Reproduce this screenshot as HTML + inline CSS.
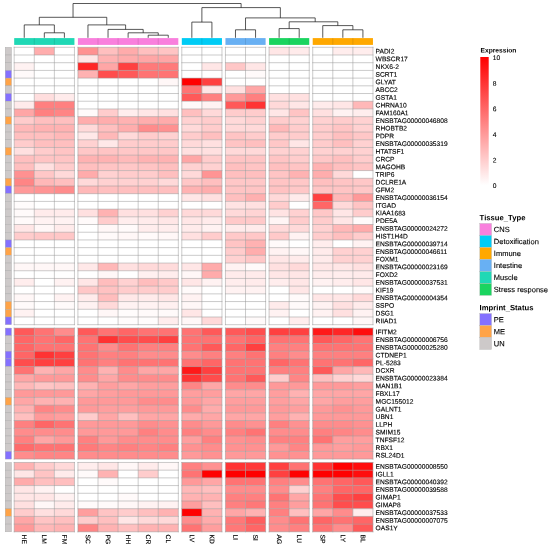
<!DOCTYPE html><html><head><meta charset="utf-8"><title>Heatmap</title><style>html,body{margin:0;padding:0;background:#fff}svg{display:block}</style></head><body><svg width="550" height="547" viewBox="0 0 550 547" font-family="Liberation Sans, Arial, sans-serif" text-rendering="geometricPrecision">
<rect width="550" height="547" fill="#fff"/>
<path d="M44.32 37.80V32.80H64.40V37.80M24.24 37.80V24.90H54.36V32.80M148.20 37.80V35.20H168.28V37.80M128.12 37.80V32.80H158.24V35.20M108.04 37.80V29.40H143.18V32.80M87.96 37.80V24.90H125.61V29.40M39.30 24.90V17.30H106.78V24.90M191.84 37.80V22.10H211.92V37.80M235.48 37.80V29.80H255.56V37.80M279.12 37.80V28.60H299.20V37.80M342.84 37.80V29.80H362.92V37.80M322.76 37.80V25.60H352.88V29.80M289.16 28.60V21.80H337.82V25.60M245.52 29.80V17.90H315.20V21.80M201.88 22.10V7.60H280.36V17.90M73.04 17.30V3.50H241.12V7.60" fill="none" stroke="#111" stroke-width="0.7"/>
<rect x="14.20" y="38.1" width="60.24" height="6.8" fill="#1FD8B5"/>
<path d="M34.28 38.1V44.9" stroke="#000" stroke-opacity="0.18" stroke-width="0.6"/>
<path d="M54.36 38.1V44.9" stroke="#000" stroke-opacity="0.18" stroke-width="0.6"/>
<rect x="77.92" y="38.1" width="100.40" height="6.8" fill="#F97FDD"/>
<path d="M98.00 38.1V44.9" stroke="#000" stroke-opacity="0.18" stroke-width="0.6"/>
<path d="M118.08 38.1V44.9" stroke="#000" stroke-opacity="0.18" stroke-width="0.6"/>
<path d="M138.16 38.1V44.9" stroke="#000" stroke-opacity="0.18" stroke-width="0.6"/>
<path d="M158.24 38.1V44.9" stroke="#000" stroke-opacity="0.18" stroke-width="0.6"/>
<rect x="181.80" y="38.1" width="40.16" height="6.8" fill="#00CCF5"/>
<path d="M201.88 38.1V44.9" stroke="#000" stroke-opacity="0.18" stroke-width="0.6"/>
<rect x="225.44" y="38.1" width="40.16" height="6.8" fill="#68B0F3"/>
<path d="M245.52 38.1V44.9" stroke="#000" stroke-opacity="0.18" stroke-width="0.6"/>
<rect x="269.08" y="38.1" width="40.16" height="6.8" fill="#1AD45F"/>
<path d="M289.16 38.1V44.9" stroke="#000" stroke-opacity="0.18" stroke-width="0.6"/>
<rect x="312.72" y="38.1" width="60.24" height="6.8" fill="#FFA800"/>
<path d="M332.80 38.1V44.9" stroke="#000" stroke-opacity="0.18" stroke-width="0.6"/>
<path d="M352.88 38.1V44.9" stroke="#000" stroke-opacity="0.18" stroke-width="0.6"/>
<rect x="5.2" y="47.30" width="6.3" height="7.71" fill="#CDC9C9" stroke="#aaa" stroke-width="0.4"/>
<rect x="34.28" y="47.30" width="20.08" height="7.71" fill="#ffadad"/>
<rect x="77.92" y="47.30" width="20.08" height="7.71" fill="#ff9191"/>
<rect x="98.00" y="47.30" width="20.08" height="7.71" fill="#ffbfbf"/>
<rect x="118.08" y="47.30" width="20.08" height="7.71" fill="#ffabab"/>
<rect x="138.16" y="47.30" width="20.08" height="7.71" fill="#ffbfbf"/>
<rect x="158.24" y="47.30" width="20.08" height="7.71" fill="#ffc4c4"/>
<rect x="269.08" y="47.30" width="20.08" height="7.71" fill="#ffe6e6"/>
<rect x="289.16" y="47.30" width="20.08" height="7.71" fill="#ffebeb"/>
<rect x="332.80" y="47.30" width="20.08" height="7.71" fill="#ffeded"/>
<rect x="352.88" y="47.30" width="20.08" height="7.71" fill="#ffeded"/>
<text transform="translate(375.6 53.55) rotate(0.05)" font-size="6.67" fill="#000" stroke="#000" stroke-width="0.12">PADI2</text>
<rect x="5.2" y="55.00" width="6.3" height="7.71" fill="#CDC9C9" stroke="#aaa" stroke-width="0.4"/>
<rect x="77.92" y="55.00" width="20.08" height="7.71" fill="#ffe6e6"/>
<rect x="98.00" y="55.00" width="20.08" height="7.71" fill="#ffb2b2"/>
<rect x="118.08" y="55.00" width="20.08" height="7.71" fill="#ffabab"/>
<rect x="138.16" y="55.00" width="20.08" height="7.71" fill="#ffa6a6"/>
<rect x="158.24" y="55.00" width="20.08" height="7.71" fill="#ffa6a6"/>
<text transform="translate(375.6 61.26) rotate(0.05)" font-size="6.67" fill="#000" stroke="#000" stroke-width="0.12">WBSCR17</text>
<rect x="5.2" y="62.71" width="6.3" height="7.71" fill="#CDC9C9" stroke="#aaa" stroke-width="0.4"/>
<rect x="14.20" y="62.71" width="20.08" height="7.71" fill="#fff2f2"/>
<rect x="77.92" y="62.71" width="20.08" height="7.71" fill="#ff2626"/>
<rect x="98.00" y="62.71" width="20.08" height="7.71" fill="#ffa6a6"/>
<rect x="118.08" y="62.71" width="20.08" height="7.71" fill="#ff4040"/>
<rect x="138.16" y="62.71" width="20.08" height="7.71" fill="#ff7a7a"/>
<rect x="158.24" y="62.71" width="20.08" height="7.71" fill="#ff7a7a"/>
<rect x="201.88" y="62.71" width="20.08" height="7.71" fill="#ffe6e6"/>
<rect x="225.44" y="62.71" width="20.08" height="7.71" fill="#ffc7c7"/>
<rect x="245.52" y="62.71" width="20.08" height="7.71" fill="#ffe6e6"/>
<text transform="translate(375.6 68.96) rotate(0.05)" font-size="6.67" fill="#000" stroke="#000" stroke-width="0.12">NKX6-2</text>
<rect x="5.2" y="70.41" width="6.3" height="7.71" fill="#8470FF" stroke="#aaa" stroke-width="0.4"/>
<rect x="14.20" y="70.41" width="20.08" height="7.71" fill="#fffafa"/>
<rect x="77.92" y="70.41" width="20.08" height="7.71" fill="#ffb2b2"/>
<rect x="98.00" y="70.41" width="20.08" height="7.71" fill="#ff4d4d"/>
<rect x="118.08" y="70.41" width="20.08" height="7.71" fill="#ff5959"/>
<rect x="138.16" y="70.41" width="20.08" height="7.71" fill="#ff7373"/>
<rect x="158.24" y="70.41" width="20.08" height="7.71" fill="#ff7373"/>
<rect x="245.52" y="70.41" width="20.08" height="7.71" fill="#fffafa"/>
<text transform="translate(375.6 76.67) rotate(0.05)" font-size="6.67" fill="#000" stroke="#000" stroke-width="0.12">SCRT1</text>
<rect x="5.2" y="78.12" width="6.3" height="7.71" fill="#FFA347" stroke="#aaa" stroke-width="0.4"/>
<rect x="158.24" y="78.12" width="20.08" height="7.71" fill="#fff7f7"/>
<rect x="181.80" y="78.12" width="20.08" height="7.71" fill="#ff0000"/>
<rect x="201.88" y="78.12" width="20.08" height="7.71" fill="#ff4040"/>
<text transform="translate(375.6 84.37) rotate(0.05)" font-size="6.67" fill="#000" stroke="#000" stroke-width="0.12">GLYAT</text>
<rect x="5.2" y="85.82" width="6.3" height="7.71" fill="#CDC9C9" stroke="#aaa" stroke-width="0.4"/>
<rect x="181.80" y="85.82" width="20.08" height="7.71" fill="#ff7373"/>
<rect x="201.88" y="85.82" width="20.08" height="7.71" fill="#ffe6e6"/>
<rect x="225.44" y="85.82" width="20.08" height="7.71" fill="#ffe0e0"/>
<rect x="245.52" y="85.82" width="20.08" height="7.71" fill="#ffa6a6"/>
<text transform="translate(375.6 92.08) rotate(0.05)" font-size="6.67" fill="#000" stroke="#000" stroke-width="0.12">ABCC2</text>
<rect x="5.2" y="93.53" width="6.3" height="7.71" fill="#8470FF" stroke="#aaa" stroke-width="0.4"/>
<rect x="34.28" y="93.53" width="20.08" height="7.71" fill="#ffdede"/>
<rect x="54.36" y="93.53" width="20.08" height="7.71" fill="#ffebeb"/>
<rect x="181.80" y="93.53" width="20.08" height="7.71" fill="#ff5959"/>
<rect x="201.88" y="93.53" width="20.08" height="7.71" fill="#ff8080"/>
<rect x="225.44" y="93.53" width="20.08" height="7.71" fill="#ff9999"/>
<rect x="245.52" y="93.53" width="20.08" height="7.71" fill="#ff8080"/>
<rect x="269.08" y="93.53" width="20.08" height="7.71" fill="#ffe0e0"/>
<rect x="289.16" y="93.53" width="20.08" height="7.71" fill="#ffe0e0"/>
<text transform="translate(375.6 99.78) rotate(0.05)" font-size="6.67" fill="#000" stroke="#000" stroke-width="0.12">GSTA1</text>
<rect x="5.2" y="101.23" width="6.3" height="7.71" fill="#CDC9C9" stroke="#aaa" stroke-width="0.4"/>
<rect x="14.20" y="101.23" width="20.08" height="7.71" fill="#ffebeb"/>
<rect x="34.28" y="101.23" width="20.08" height="7.71" fill="#ff8080"/>
<rect x="54.36" y="101.23" width="20.08" height="7.71" fill="#ff8080"/>
<rect x="181.80" y="101.23" width="20.08" height="7.71" fill="#fffafa"/>
<rect x="201.88" y="101.23" width="20.08" height="7.71" fill="#fff2f2"/>
<rect x="225.44" y="101.23" width="20.08" height="7.71" fill="#ff5959"/>
<rect x="245.52" y="101.23" width="20.08" height="7.71" fill="#ff3333"/>
<rect x="269.08" y="101.23" width="20.08" height="7.71" fill="#ffd9d9"/>
<rect x="289.16" y="101.23" width="20.08" height="7.71" fill="#ffe6e6"/>
<rect x="312.72" y="101.23" width="20.08" height="7.71" fill="#ffebeb"/>
<rect x="332.80" y="101.23" width="20.08" height="7.71" fill="#ffe6e6"/>
<rect x="352.88" y="101.23" width="20.08" height="7.71" fill="#ffb8b8"/>
<text transform="translate(375.6 107.49) rotate(0.05)" font-size="6.67" fill="#000" stroke="#000" stroke-width="0.12">CHRNA10</text>
<rect x="5.2" y="108.94" width="6.3" height="7.71" fill="#CDC9C9" stroke="#aaa" stroke-width="0.4"/>
<rect x="14.20" y="108.94" width="20.08" height="7.71" fill="#ffa6a6"/>
<rect x="34.28" y="108.94" width="20.08" height="7.71" fill="#ff8080"/>
<rect x="54.36" y="108.94" width="20.08" height="7.71" fill="#ff8585"/>
<rect x="77.92" y="108.94" width="20.08" height="7.71" fill="#fffafa"/>
<rect x="98.00" y="108.94" width="20.08" height="7.71" fill="#ffcccc"/>
<rect x="118.08" y="108.94" width="20.08" height="7.71" fill="#ffeded"/>
<rect x="138.16" y="108.94" width="20.08" height="7.71" fill="#ffe6e6"/>
<rect x="158.24" y="108.94" width="20.08" height="7.71" fill="#ffe0e0"/>
<rect x="181.80" y="108.94" width="20.08" height="7.71" fill="#ffbfbf"/>
<rect x="201.88" y="108.94" width="20.08" height="7.71" fill="#ffd9d9"/>
<rect x="225.44" y="108.94" width="20.08" height="7.71" fill="#ffcccc"/>
<rect x="245.52" y="108.94" width="20.08" height="7.71" fill="#ffcccc"/>
<rect x="269.08" y="108.94" width="20.08" height="7.71" fill="#ffe6e6"/>
<rect x="289.16" y="108.94" width="20.08" height="7.71" fill="#ffc4c4"/>
<rect x="312.72" y="108.94" width="20.08" height="7.71" fill="#ffe0e0"/>
<rect x="332.80" y="108.94" width="20.08" height="7.71" fill="#fff2f2"/>
<rect x="352.88" y="108.94" width="20.08" height="7.71" fill="#ffeded"/>
<text transform="translate(375.6 115.19) rotate(0.05)" font-size="6.67" fill="#000" stroke="#000" stroke-width="0.12">FAM160A1</text>
<rect x="5.2" y="116.64" width="6.3" height="7.71" fill="#FFA347" stroke="#aaa" stroke-width="0.4"/>
<rect x="14.20" y="116.64" width="20.08" height="7.71" fill="#ffcccc"/>
<rect x="34.28" y="116.64" width="20.08" height="7.71" fill="#ffbfbf"/>
<rect x="54.36" y="116.64" width="20.08" height="7.71" fill="#ffbfbf"/>
<rect x="77.92" y="116.64" width="20.08" height="7.71" fill="#ffadad"/>
<rect x="98.00" y="116.64" width="20.08" height="7.71" fill="#ffadad"/>
<rect x="118.08" y="116.64" width="20.08" height="7.71" fill="#ffb2b2"/>
<rect x="138.16" y="116.64" width="20.08" height="7.71" fill="#ffadad"/>
<rect x="158.24" y="116.64" width="20.08" height="7.71" fill="#ffabab"/>
<rect x="181.80" y="116.64" width="20.08" height="7.71" fill="#ffd1d1"/>
<rect x="201.88" y="116.64" width="20.08" height="7.71" fill="#ffcccc"/>
<rect x="225.44" y="116.64" width="20.08" height="7.71" fill="#ffd9d9"/>
<rect x="245.52" y="116.64" width="20.08" height="7.71" fill="#ffd1d1"/>
<rect x="269.08" y="116.64" width="20.08" height="7.71" fill="#ffcccc"/>
<rect x="289.16" y="116.64" width="20.08" height="7.71" fill="#ffd1d1"/>
<rect x="312.72" y="116.64" width="20.08" height="7.71" fill="#ffd1d1"/>
<rect x="332.80" y="116.64" width="20.08" height="7.71" fill="#ffcccc"/>
<rect x="352.88" y="116.64" width="20.08" height="7.71" fill="#ffd1d1"/>
<text transform="translate(375.6 122.90) rotate(0.05)" font-size="6.67" fill="#000" stroke="#000" stroke-width="0.12">ENSBTAG00000046808</text>
<rect x="5.2" y="124.35" width="6.3" height="7.71" fill="#CDC9C9" stroke="#aaa" stroke-width="0.4"/>
<rect x="14.20" y="124.35" width="20.08" height="7.71" fill="#ffb8b8"/>
<rect x="34.28" y="124.35" width="20.08" height="7.71" fill="#ffb2b2"/>
<rect x="54.36" y="124.35" width="20.08" height="7.71" fill="#ffb2b2"/>
<rect x="77.92" y="124.35" width="20.08" height="7.71" fill="#ffd9d9"/>
<rect x="98.00" y="124.35" width="20.08" height="7.71" fill="#ffbfbf"/>
<rect x="118.08" y="124.35" width="20.08" height="7.71" fill="#ffadad"/>
<rect x="138.16" y="124.35" width="20.08" height="7.71" fill="#ff8c8c"/>
<rect x="158.24" y="124.35" width="20.08" height="7.71" fill="#ff9191"/>
<rect x="181.80" y="124.35" width="20.08" height="7.71" fill="#ffd9d9"/>
<rect x="201.88" y="124.35" width="20.08" height="7.71" fill="#ffcccc"/>
<rect x="225.44" y="124.35" width="20.08" height="7.71" fill="#ffd9d9"/>
<rect x="245.52" y="124.35" width="20.08" height="7.71" fill="#ffd9d9"/>
<rect x="269.08" y="124.35" width="20.08" height="7.71" fill="#ffb8b8"/>
<rect x="289.16" y="124.35" width="20.08" height="7.71" fill="#ffcccc"/>
<rect x="312.72" y="124.35" width="20.08" height="7.71" fill="#ffcccc"/>
<rect x="332.80" y="124.35" width="20.08" height="7.71" fill="#ffc4c4"/>
<rect x="352.88" y="124.35" width="20.08" height="7.71" fill="#ffd1d1"/>
<text transform="translate(375.6 130.60) rotate(0.05)" font-size="6.67" fill="#000" stroke="#000" stroke-width="0.12">RHOBTB2</text>
<rect x="5.2" y="132.05" width="6.3" height="7.71" fill="#CDC9C9" stroke="#aaa" stroke-width="0.4"/>
<rect x="14.20" y="132.05" width="20.08" height="7.71" fill="#ffbfbf"/>
<rect x="34.28" y="132.05" width="20.08" height="7.71" fill="#ffbfbf"/>
<rect x="54.36" y="132.05" width="20.08" height="7.71" fill="#ffb8b8"/>
<rect x="77.92" y="132.05" width="20.08" height="7.71" fill="#ffe8e8"/>
<rect x="98.00" y="132.05" width="20.08" height="7.71" fill="#ffb8b8"/>
<rect x="118.08" y="132.05" width="20.08" height="7.71" fill="#ffd9d9"/>
<rect x="138.16" y="132.05" width="20.08" height="7.71" fill="#ffcccc"/>
<rect x="158.24" y="132.05" width="20.08" height="7.71" fill="#ffd1d1"/>
<rect x="181.80" y="132.05" width="20.08" height="7.71" fill="#ffcccc"/>
<rect x="201.88" y="132.05" width="20.08" height="7.71" fill="#ffbfbf"/>
<rect x="225.44" y="132.05" width="20.08" height="7.71" fill="#ffc4c4"/>
<rect x="245.52" y="132.05" width="20.08" height="7.71" fill="#ffcccc"/>
<rect x="269.08" y="132.05" width="20.08" height="7.71" fill="#ffcccc"/>
<rect x="289.16" y="132.05" width="20.08" height="7.71" fill="#ffcccc"/>
<rect x="312.72" y="132.05" width="20.08" height="7.71" fill="#ffcccc"/>
<rect x="332.80" y="132.05" width="20.08" height="7.71" fill="#ffbfbf"/>
<rect x="352.88" y="132.05" width="20.08" height="7.71" fill="#ffc7c7"/>
<text transform="translate(375.6 138.31) rotate(0.05)" font-size="6.67" fill="#000" stroke="#000" stroke-width="0.12">PDPR</text>
<rect x="5.2" y="139.76" width="6.3" height="7.71" fill="#CDC9C9" stroke="#aaa" stroke-width="0.4"/>
<rect x="14.20" y="139.76" width="20.08" height="7.71" fill="#ffcccc"/>
<rect x="34.28" y="139.76" width="20.08" height="7.71" fill="#ffbfbf"/>
<rect x="54.36" y="139.76" width="20.08" height="7.71" fill="#ffbfbf"/>
<rect x="77.92" y="139.76" width="20.08" height="7.71" fill="#ffd1d1"/>
<rect x="98.00" y="139.76" width="20.08" height="7.71" fill="#ffe8e8"/>
<rect x="118.08" y="139.76" width="20.08" height="7.71" fill="#ffcccc"/>
<rect x="138.16" y="139.76" width="20.08" height="7.71" fill="#ffcccc"/>
<rect x="158.24" y="139.76" width="20.08" height="7.71" fill="#ffcccc"/>
<rect x="181.80" y="139.76" width="20.08" height="7.71" fill="#ffd9d9"/>
<rect x="201.88" y="139.76" width="20.08" height="7.71" fill="#ffe0e0"/>
<rect x="225.44" y="139.76" width="20.08" height="7.71" fill="#ffc4c4"/>
<rect x="245.52" y="139.76" width="20.08" height="7.71" fill="#ffbfbf"/>
<rect x="269.08" y="139.76" width="20.08" height="7.71" fill="#ffc7c7"/>
<rect x="289.16" y="139.76" width="20.08" height="7.71" fill="#ffe6e6"/>
<rect x="312.72" y="139.76" width="20.08" height="7.71" fill="#ffcccc"/>
<rect x="332.80" y="139.76" width="20.08" height="7.71" fill="#ffbfbf"/>
<rect x="352.88" y="139.76" width="20.08" height="7.71" fill="#ffd1d1"/>
<text transform="translate(375.6 146.01) rotate(0.05)" font-size="6.67" fill="#000" stroke="#000" stroke-width="0.12">ENSBTAG00000035319</text>
<rect x="5.2" y="147.47" width="6.3" height="7.71" fill="#FFA347" stroke="#aaa" stroke-width="0.4"/>
<rect x="14.20" y="147.47" width="20.08" height="7.71" fill="#ffe0e0"/>
<rect x="34.28" y="147.47" width="20.08" height="7.71" fill="#ffcccc"/>
<rect x="54.36" y="147.47" width="20.08" height="7.71" fill="#ffc4c4"/>
<rect x="77.92" y="147.47" width="20.08" height="7.71" fill="#ffc7c7"/>
<rect x="98.00" y="147.47" width="20.08" height="7.71" fill="#ffc4c4"/>
<rect x="118.08" y="147.47" width="20.08" height="7.71" fill="#ffc7c7"/>
<rect x="138.16" y="147.47" width="20.08" height="7.71" fill="#ffc7c7"/>
<rect x="158.24" y="147.47" width="20.08" height="7.71" fill="#ffc7c7"/>
<rect x="181.80" y="147.47" width="20.08" height="7.71" fill="#ffe0e0"/>
<rect x="201.88" y="147.47" width="20.08" height="7.71" fill="#ffe0e0"/>
<rect x="225.44" y="147.47" width="20.08" height="7.71" fill="#ffd9d9"/>
<rect x="245.52" y="147.47" width="20.08" height="7.71" fill="#ffd9d9"/>
<rect x="269.08" y="147.47" width="20.08" height="7.71" fill="#ffd1d1"/>
<rect x="289.16" y="147.47" width="20.08" height="7.71" fill="#ffd1d1"/>
<rect x="312.72" y="147.47" width="20.08" height="7.71" fill="#ffd1d1"/>
<rect x="332.80" y="147.47" width="20.08" height="7.71" fill="#ffd1d1"/>
<rect x="352.88" y="147.47" width="20.08" height="7.71" fill="#ffd1d1"/>
<text transform="translate(375.6 153.72) rotate(0.05)" font-size="6.67" fill="#000" stroke="#000" stroke-width="0.12">HTATSF1</text>
<rect x="5.2" y="155.17" width="6.3" height="7.71" fill="#CDC9C9" stroke="#aaa" stroke-width="0.4"/>
<rect x="14.20" y="155.17" width="20.08" height="7.71" fill="#ffbfbf"/>
<rect x="34.28" y="155.17" width="20.08" height="7.71" fill="#ffc4c4"/>
<rect x="54.36" y="155.17" width="20.08" height="7.71" fill="#ffc4c4"/>
<rect x="77.92" y="155.17" width="20.08" height="7.71" fill="#ffb2b2"/>
<rect x="98.00" y="155.17" width="20.08" height="7.71" fill="#ffb2b2"/>
<rect x="118.08" y="155.17" width="20.08" height="7.71" fill="#ffbaba"/>
<rect x="138.16" y="155.17" width="20.08" height="7.71" fill="#ffb2b2"/>
<rect x="158.24" y="155.17" width="20.08" height="7.71" fill="#ffb2b2"/>
<rect x="181.80" y="155.17" width="20.08" height="7.71" fill="#ffa6a6"/>
<rect x="201.88" y="155.17" width="20.08" height="7.71" fill="#ffcccc"/>
<rect x="225.44" y="155.17" width="20.08" height="7.71" fill="#ffc4c4"/>
<rect x="245.52" y="155.17" width="20.08" height="7.71" fill="#ffc4c4"/>
<rect x="269.08" y="155.17" width="20.08" height="7.71" fill="#ffc4c4"/>
<rect x="289.16" y="155.17" width="20.08" height="7.71" fill="#ffcccc"/>
<rect x="312.72" y="155.17" width="20.08" height="7.71" fill="#ffc7c7"/>
<rect x="332.80" y="155.17" width="20.08" height="7.71" fill="#ffbfbf"/>
<rect x="352.88" y="155.17" width="20.08" height="7.71" fill="#ffcccc"/>
<text transform="translate(375.6 161.42) rotate(0.05)" font-size="6.67" fill="#000" stroke="#000" stroke-width="0.12">CRCP</text>
<rect x="5.2" y="162.88" width="6.3" height="7.71" fill="#CDC9C9" stroke="#aaa" stroke-width="0.4"/>
<rect x="14.20" y="162.88" width="20.08" height="7.71" fill="#ffbfbf"/>
<rect x="34.28" y="162.88" width="20.08" height="7.71" fill="#ffe0e0"/>
<rect x="54.36" y="162.88" width="20.08" height="7.71" fill="#ffcccc"/>
<rect x="77.92" y="162.88" width="20.08" height="7.71" fill="#ffbfbf"/>
<rect x="98.00" y="162.88" width="20.08" height="7.71" fill="#ffc4c4"/>
<rect x="118.08" y="162.88" width="20.08" height="7.71" fill="#ffc7c7"/>
<rect x="138.16" y="162.88" width="20.08" height="7.71" fill="#ffc4c4"/>
<rect x="158.24" y="162.88" width="20.08" height="7.71" fill="#ffbfbf"/>
<rect x="181.80" y="162.88" width="20.08" height="7.71" fill="#ffd1d1"/>
<rect x="201.88" y="162.88" width="20.08" height="7.71" fill="#ffd1d1"/>
<rect x="225.44" y="162.88" width="20.08" height="7.71" fill="#ffbfbf"/>
<rect x="245.52" y="162.88" width="20.08" height="7.71" fill="#ffc4c4"/>
<rect x="269.08" y="162.88" width="20.08" height="7.71" fill="#ffbfbf"/>
<rect x="289.16" y="162.88" width="20.08" height="7.71" fill="#ffc4c4"/>
<rect x="312.72" y="162.88" width="20.08" height="7.71" fill="#ffb2b2"/>
<rect x="332.80" y="162.88" width="20.08" height="7.71" fill="#ffbfbf"/>
<rect x="352.88" y="162.88" width="20.08" height="7.71" fill="#ffc4c4"/>
<text transform="translate(375.6 169.13) rotate(0.05)" font-size="6.67" fill="#000" stroke="#000" stroke-width="0.12">MAGOHB</text>
<rect x="5.2" y="170.58" width="6.3" height="7.71" fill="#CDC9C9" stroke="#aaa" stroke-width="0.4"/>
<rect x="14.20" y="170.58" width="20.08" height="7.71" fill="#ff9191"/>
<rect x="34.28" y="170.58" width="20.08" height="7.71" fill="#ffc7c7"/>
<rect x="54.36" y="170.58" width="20.08" height="7.71" fill="#ffd9d9"/>
<rect x="77.92" y="170.58" width="20.08" height="7.71" fill="#ffabab"/>
<rect x="98.00" y="170.58" width="20.08" height="7.71" fill="#ffd1d1"/>
<rect x="118.08" y="170.58" width="20.08" height="7.71" fill="#ffcccc"/>
<rect x="138.16" y="170.58" width="20.08" height="7.71" fill="#ffcccc"/>
<rect x="158.24" y="170.58" width="20.08" height="7.71" fill="#ffbfbf"/>
<rect x="181.80" y="170.58" width="20.08" height="7.71" fill="#ffd9d9"/>
<rect x="201.88" y="170.58" width="20.08" height="7.71" fill="#ff9494"/>
<rect x="225.44" y="170.58" width="20.08" height="7.71" fill="#ffbfbf"/>
<rect x="245.52" y="170.58" width="20.08" height="7.71" fill="#ffbfbf"/>
<rect x="269.08" y="170.58" width="20.08" height="7.71" fill="#ffc4c4"/>
<rect x="289.16" y="170.58" width="20.08" height="7.71" fill="#ffb2b2"/>
<rect x="312.72" y="170.58" width="20.08" height="7.71" fill="#ffadad"/>
<rect x="332.80" y="170.58" width="20.08" height="7.71" fill="#ffd9d9"/>
<text transform="translate(375.6 176.83) rotate(0.05)" font-size="6.67" fill="#000" stroke="#000" stroke-width="0.12">TRIP6</text>
<rect x="5.2" y="178.29" width="6.3" height="7.71" fill="#FFA347" stroke="#aaa" stroke-width="0.4"/>
<rect x="14.20" y="178.29" width="20.08" height="7.71" fill="#ff8585"/>
<rect x="34.28" y="178.29" width="20.08" height="7.71" fill="#ffb8b8"/>
<rect x="54.36" y="178.29" width="20.08" height="7.71" fill="#ffbfbf"/>
<rect x="77.92" y="178.29" width="20.08" height="7.71" fill="#ffd9d9"/>
<rect x="98.00" y="178.29" width="20.08" height="7.71" fill="#ffd1d1"/>
<rect x="118.08" y="178.29" width="20.08" height="7.71" fill="#ffd1d1"/>
<rect x="138.16" y="178.29" width="20.08" height="7.71" fill="#ffd1d1"/>
<rect x="158.24" y="178.29" width="20.08" height="7.71" fill="#ffd9d9"/>
<rect x="181.80" y="178.29" width="20.08" height="7.71" fill="#ffc7c7"/>
<rect x="201.88" y="178.29" width="20.08" height="7.71" fill="#ffbfbf"/>
<rect x="225.44" y="178.29" width="20.08" height="7.71" fill="#ffc7c7"/>
<rect x="245.52" y="178.29" width="20.08" height="7.71" fill="#ffc7c7"/>
<rect x="269.08" y="178.29" width="20.08" height="7.71" fill="#ffc4c4"/>
<rect x="289.16" y="178.29" width="20.08" height="7.71" fill="#ffc7c7"/>
<rect x="312.72" y="178.29" width="20.08" height="7.71" fill="#ffbfbf"/>
<rect x="332.80" y="178.29" width="20.08" height="7.71" fill="#ffc4c4"/>
<rect x="352.88" y="178.29" width="20.08" height="7.71" fill="#ffc7c7"/>
<text transform="translate(375.6 184.54) rotate(0.05)" font-size="6.67" fill="#000" stroke="#000" stroke-width="0.12">DCLRE1A</text>
<rect x="5.2" y="185.99" width="6.3" height="7.71" fill="#8470FF" stroke="#aaa" stroke-width="0.4"/>
<rect x="14.20" y="185.99" width="20.08" height="7.71" fill="#ff9999"/>
<rect x="34.28" y="185.99" width="20.08" height="7.71" fill="#ff9494"/>
<rect x="54.36" y="185.99" width="20.08" height="7.71" fill="#ff8c8c"/>
<rect x="77.92" y="185.99" width="20.08" height="7.71" fill="#ffb8b8"/>
<rect x="98.00" y="185.99" width="20.08" height="7.71" fill="#ffbfbf"/>
<rect x="118.08" y="185.99" width="20.08" height="7.71" fill="#ffbfbf"/>
<rect x="138.16" y="185.99" width="20.08" height="7.71" fill="#ffbfbf"/>
<rect x="158.24" y="185.99" width="20.08" height="7.71" fill="#ffbfbf"/>
<rect x="181.80" y="185.99" width="20.08" height="7.71" fill="#ffb2b2"/>
<rect x="201.88" y="185.99" width="20.08" height="7.71" fill="#ffadad"/>
<rect x="225.44" y="185.99" width="20.08" height="7.71" fill="#ffc4c4"/>
<rect x="245.52" y="185.99" width="20.08" height="7.71" fill="#ffc4c4"/>
<rect x="269.08" y="185.99" width="20.08" height="7.71" fill="#ffc2c2"/>
<rect x="289.16" y="185.99" width="20.08" height="7.71" fill="#ffc7c7"/>
<rect x="312.72" y="185.99" width="20.08" height="7.71" fill="#ffc4c4"/>
<rect x="332.80" y="185.99" width="20.08" height="7.71" fill="#ffc4c4"/>
<rect x="352.88" y="185.99" width="20.08" height="7.71" fill="#ffc7c7"/>
<text transform="translate(375.6 192.24) rotate(0.05)" font-size="6.67" fill="#000" stroke="#000" stroke-width="0.12">GFM2</text>
<rect x="5.2" y="193.70" width="6.3" height="7.71" fill="#CDC9C9" stroke="#aaa" stroke-width="0.4"/>
<rect x="181.80" y="193.70" width="20.08" height="7.71" fill="#ffe6e6"/>
<rect x="201.88" y="193.70" width="20.08" height="7.71" fill="#ffe0e0"/>
<rect x="225.44" y="193.70" width="20.08" height="7.71" fill="#ffbfbf"/>
<rect x="245.52" y="193.70" width="20.08" height="7.71" fill="#ffb0b0"/>
<rect x="269.08" y="193.70" width="20.08" height="7.71" fill="#ffd9d9"/>
<rect x="289.16" y="193.70" width="20.08" height="7.71" fill="#ffebeb"/>
<rect x="312.72" y="193.70" width="20.08" height="7.71" fill="#ff4040"/>
<rect x="332.80" y="193.70" width="20.08" height="7.71" fill="#ffb8b8"/>
<rect x="352.88" y="193.70" width="20.08" height="7.71" fill="#ff9999"/>
<text transform="translate(375.6 199.95) rotate(0.05)" font-size="6.67" fill="#000" stroke="#000" stroke-width="0.12">ENSBTAG00000036154</text>
<rect x="5.2" y="201.40" width="6.3" height="7.71" fill="#CDC9C9" stroke="#aaa" stroke-width="0.4"/>
<rect x="14.20" y="201.40" width="20.08" height="7.71" fill="#fffcfc"/>
<rect x="225.44" y="201.40" width="20.08" height="7.71" fill="#ffe3e3"/>
<rect x="245.52" y="201.40" width="20.08" height="7.71" fill="#ffe0e0"/>
<rect x="269.08" y="201.40" width="20.08" height="7.71" fill="#ffcccc"/>
<rect x="312.72" y="201.40" width="20.08" height="7.71" fill="#ff6666"/>
<rect x="332.80" y="201.40" width="20.08" height="7.71" fill="#ffd9d9"/>
<rect x="352.88" y="201.40" width="20.08" height="7.71" fill="#ffc4c4"/>
<text transform="translate(375.6 207.65) rotate(0.05)" font-size="6.67" fill="#000" stroke="#000" stroke-width="0.12">ITGAD</text>
<rect x="5.2" y="209.11" width="6.3" height="7.71" fill="#CDC9C9" stroke="#aaa" stroke-width="0.4"/>
<rect x="14.20" y="209.11" width="20.08" height="7.71" fill="#fffafa"/>
<rect x="34.28" y="209.11" width="20.08" height="7.71" fill="#ffebeb"/>
<rect x="54.36" y="209.11" width="20.08" height="7.71" fill="#ffebeb"/>
<rect x="77.92" y="209.11" width="20.08" height="7.71" fill="#ffe0e0"/>
<rect x="98.00" y="209.11" width="20.08" height="7.71" fill="#ffb2b2"/>
<rect x="118.08" y="209.11" width="20.08" height="7.71" fill="#ffe0e0"/>
<rect x="138.16" y="209.11" width="20.08" height="7.71" fill="#ffe0e0"/>
<rect x="158.24" y="209.11" width="20.08" height="7.71" fill="#ffd1d1"/>
<rect x="181.80" y="209.11" width="20.08" height="7.71" fill="#ffd9d9"/>
<rect x="201.88" y="209.11" width="20.08" height="7.71" fill="#ffd9d9"/>
<rect x="225.44" y="209.11" width="20.08" height="7.71" fill="#ffd9d9"/>
<rect x="245.52" y="209.11" width="20.08" height="7.71" fill="#ffd4d4"/>
<rect x="269.08" y="209.11" width="20.08" height="7.71" fill="#ffe3e3"/>
<rect x="289.16" y="209.11" width="20.08" height="7.71" fill="#ffd1d1"/>
<rect x="312.72" y="209.11" width="20.08" height="7.71" fill="#ffc7c7"/>
<rect x="332.80" y="209.11" width="20.08" height="7.71" fill="#ffe6e6"/>
<rect x="352.88" y="209.11" width="20.08" height="7.71" fill="#ffcccc"/>
<text transform="translate(375.6 215.36) rotate(0.05)" font-size="6.67" fill="#000" stroke="#000" stroke-width="0.12">KIAA1683</text>
<rect x="5.2" y="216.81" width="6.3" height="7.71" fill="#CDC9C9" stroke="#aaa" stroke-width="0.4"/>
<rect x="14.20" y="216.81" width="20.08" height="7.71" fill="#fffafa"/>
<rect x="34.28" y="216.81" width="20.08" height="7.71" fill="#fff2f2"/>
<rect x="54.36" y="216.81" width="20.08" height="7.71" fill="#fff2f2"/>
<rect x="77.92" y="216.81" width="20.08" height="7.71" fill="#fffafa"/>
<rect x="98.00" y="216.81" width="20.08" height="7.71" fill="#ffcccc"/>
<rect x="118.08" y="216.81" width="20.08" height="7.71" fill="#ffeded"/>
<rect x="138.16" y="216.81" width="20.08" height="7.71" fill="#ffebeb"/>
<rect x="158.24" y="216.81" width="20.08" height="7.71" fill="#ffe6e6"/>
<rect x="181.80" y="216.81" width="20.08" height="7.71" fill="#ffe6e6"/>
<rect x="201.88" y="216.81" width="20.08" height="7.71" fill="#ffebeb"/>
<rect x="225.44" y="216.81" width="20.08" height="7.71" fill="#ffc9c9"/>
<rect x="245.52" y="216.81" width="20.08" height="7.71" fill="#ffc9c9"/>
<rect x="269.08" y="216.81" width="20.08" height="7.71" fill="#fff5f5"/>
<rect x="289.16" y="216.81" width="20.08" height="7.71" fill="#ffcccc"/>
<rect x="312.72" y="216.81" width="20.08" height="7.71" fill="#ffcccc"/>
<rect x="332.80" y="216.81" width="20.08" height="7.71" fill="#ffe6e6"/>
<rect x="352.88" y="216.81" width="20.08" height="7.71" fill="#fffafa"/>
<text transform="translate(375.6 223.06) rotate(0.05)" font-size="6.67" fill="#000" stroke="#000" stroke-width="0.12">PDE5A</text>
<rect x="5.2" y="224.52" width="6.3" height="7.71" fill="#CDC9C9" stroke="#aaa" stroke-width="0.4"/>
<rect x="14.20" y="224.52" width="20.08" height="7.71" fill="#ffe6e6"/>
<rect x="34.28" y="224.52" width="20.08" height="7.71" fill="#fff7f7"/>
<rect x="54.36" y="224.52" width="20.08" height="7.71" fill="#ffebeb"/>
<rect x="98.00" y="224.52" width="20.08" height="7.71" fill="#fff7f7"/>
<rect x="118.08" y="224.52" width="20.08" height="7.71" fill="#fffafa"/>
<rect x="138.16" y="224.52" width="20.08" height="7.71" fill="#ffeded"/>
<rect x="158.24" y="224.52" width="20.08" height="7.71" fill="#ffeded"/>
<rect x="181.80" y="224.52" width="20.08" height="7.71" fill="#ffebeb"/>
<rect x="201.88" y="224.52" width="20.08" height="7.71" fill="#fff2f2"/>
<rect x="225.44" y="224.52" width="20.08" height="7.71" fill="#ffebeb"/>
<rect x="245.52" y="224.52" width="20.08" height="7.71" fill="#ffebeb"/>
<rect x="269.08" y="224.52" width="20.08" height="7.71" fill="#ffd9d9"/>
<rect x="289.16" y="224.52" width="20.08" height="7.71" fill="#ffd9d9"/>
<rect x="312.72" y="224.52" width="20.08" height="7.71" fill="#ffd1d1"/>
<rect x="332.80" y="224.52" width="20.08" height="7.71" fill="#ffb8b8"/>
<rect x="352.88" y="224.52" width="20.08" height="7.71" fill="#ffabab"/>
<text transform="translate(375.6 230.77) rotate(0.05)" font-size="6.67" fill="#000" stroke="#000" stroke-width="0.12">ENSBTAG00000024272</text>
<rect x="5.2" y="232.22" width="6.3" height="7.71" fill="#CDC9C9" stroke="#aaa" stroke-width="0.4"/>
<rect x="14.20" y="232.22" width="20.08" height="7.71" fill="#ffcccc"/>
<rect x="34.28" y="232.22" width="20.08" height="7.71" fill="#ffc7c7"/>
<rect x="54.36" y="232.22" width="20.08" height="7.71" fill="#ffc7c7"/>
<rect x="98.00" y="232.22" width="20.08" height="7.71" fill="#fffafa"/>
<rect x="118.08" y="232.22" width="20.08" height="7.71" fill="#fff7f7"/>
<rect x="138.16" y="232.22" width="20.08" height="7.71" fill="#fffafa"/>
<rect x="158.24" y="232.22" width="20.08" height="7.71" fill="#fff7f7"/>
<rect x="181.80" y="232.22" width="20.08" height="7.71" fill="#ffe0e0"/>
<rect x="201.88" y="232.22" width="20.08" height="7.71" fill="#ffcccc"/>
<rect x="225.44" y="232.22" width="20.08" height="7.71" fill="#ffc9c9"/>
<rect x="245.52" y="232.22" width="20.08" height="7.71" fill="#ffc7c7"/>
<rect x="269.08" y="232.22" width="20.08" height="7.71" fill="#ffc9c9"/>
<rect x="289.16" y="232.22" width="20.08" height="7.71" fill="#fff2f2"/>
<rect x="312.72" y="232.22" width="20.08" height="7.71" fill="#ffcccc"/>
<rect x="332.80" y="232.22" width="20.08" height="7.71" fill="#ffbfbf"/>
<rect x="352.88" y="232.22" width="20.08" height="7.71" fill="#ffcccc"/>
<text transform="translate(375.6 238.47) rotate(0.05)" font-size="6.67" fill="#000" stroke="#000" stroke-width="0.12">HIST1H4D</text>
<rect x="5.2" y="239.93" width="6.3" height="7.71" fill="#8470FF" stroke="#aaa" stroke-width="0.4"/>
<rect x="225.44" y="239.93" width="20.08" height="7.71" fill="#ffc4c4"/>
<rect x="245.52" y="239.93" width="20.08" height="7.71" fill="#ffb2b2"/>
<rect x="269.08" y="239.93" width="20.08" height="7.71" fill="#fffafa"/>
<rect x="312.72" y="239.93" width="20.08" height="7.71" fill="#ffeded"/>
<rect x="352.88" y="239.93" width="20.08" height="7.71" fill="#fff2f2"/>
<text transform="translate(375.6 246.18) rotate(0.05)" font-size="6.67" fill="#000" stroke="#000" stroke-width="0.12">ENSBTAG00000039714</text>
<rect x="5.2" y="247.63" width="6.3" height="7.71" fill="#FFA347" stroke="#aaa" stroke-width="0.4"/>
<rect x="225.44" y="247.63" width="20.08" height="7.71" fill="#ffcccc"/>
<rect x="245.52" y="247.63" width="20.08" height="7.71" fill="#ffadad"/>
<rect x="269.08" y="247.63" width="20.08" height="7.71" fill="#fff2f2"/>
<rect x="289.16" y="247.63" width="20.08" height="7.71" fill="#fff7f7"/>
<rect x="312.72" y="247.63" width="20.08" height="7.71" fill="#ffebeb"/>
<rect x="332.80" y="247.63" width="20.08" height="7.71" fill="#ffd1d1"/>
<rect x="352.88" y="247.63" width="20.08" height="7.71" fill="#ffd1d1"/>
<text transform="translate(375.6 253.88) rotate(0.05)" font-size="6.67" fill="#000" stroke="#000" stroke-width="0.12">ENSBTAG00000046611</text>
<rect x="5.2" y="255.34" width="6.3" height="7.71" fill="#CDC9C9" stroke="#aaa" stroke-width="0.4"/>
<rect x="225.44" y="255.34" width="20.08" height="7.71" fill="#ffd1d1"/>
<rect x="245.52" y="255.34" width="20.08" height="7.71" fill="#ffc7c7"/>
<rect x="269.08" y="255.34" width="20.08" height="7.71" fill="#ffe6e6"/>
<rect x="289.16" y="255.34" width="20.08" height="7.71" fill="#ffebeb"/>
<rect x="312.72" y="255.34" width="20.08" height="7.71" fill="#ffebeb"/>
<rect x="332.80" y="255.34" width="20.08" height="7.71" fill="#ffd1d1"/>
<rect x="352.88" y="255.34" width="20.08" height="7.71" fill="#ffd1d1"/>
<text transform="translate(375.6 261.59) rotate(0.05)" font-size="6.67" fill="#000" stroke="#000" stroke-width="0.12">FOXM1</text>
<rect x="5.2" y="263.04" width="6.3" height="7.71" fill="#CDC9C9" stroke="#aaa" stroke-width="0.4"/>
<rect x="14.20" y="263.04" width="20.08" height="7.71" fill="#fff7f7"/>
<rect x="34.28" y="263.04" width="20.08" height="7.71" fill="#fff7f7"/>
<rect x="54.36" y="263.04" width="20.08" height="7.71" fill="#fff7f7"/>
<rect x="77.92" y="263.04" width="20.08" height="7.71" fill="#ffe8e8"/>
<rect x="98.00" y="263.04" width="20.08" height="7.71" fill="#ffb8b8"/>
<rect x="118.08" y="263.04" width="20.08" height="7.71" fill="#ffe0e0"/>
<rect x="138.16" y="263.04" width="20.08" height="7.71" fill="#ffd9d9"/>
<rect x="158.24" y="263.04" width="20.08" height="7.71" fill="#ffdbdb"/>
<rect x="181.80" y="263.04" width="20.08" height="7.71" fill="#ffe6e6"/>
<rect x="201.88" y="263.04" width="20.08" height="7.71" fill="#ffabab"/>
<rect x="225.44" y="263.04" width="20.08" height="7.71" fill="#fff2f2"/>
<rect x="245.52" y="263.04" width="20.08" height="7.71" fill="#fffafa"/>
<rect x="269.08" y="263.04" width="20.08" height="7.71" fill="#ffe0e0"/>
<rect x="289.16" y="263.04" width="20.08" height="7.71" fill="#ffd9d9"/>
<rect x="312.72" y="263.04" width="20.08" height="7.71" fill="#ffe6e6"/>
<rect x="332.80" y="263.04" width="20.08" height="7.71" fill="#ffe6e6"/>
<rect x="352.88" y="263.04" width="20.08" height="7.71" fill="#ffe0e0"/>
<text transform="translate(375.6 269.29) rotate(0.05)" font-size="6.67" fill="#000" stroke="#000" stroke-width="0.12">ENSBTAG00000023169</text>
<rect x="5.2" y="270.75" width="6.3" height="7.71" fill="#CDC9C9" stroke="#aaa" stroke-width="0.4"/>
<rect x="98.00" y="270.75" width="20.08" height="7.71" fill="#fff7f7"/>
<rect x="138.16" y="270.75" width="20.08" height="7.71" fill="#fff0f0"/>
<rect x="158.24" y="270.75" width="20.08" height="7.71" fill="#ffeded"/>
<rect x="181.80" y="270.75" width="20.08" height="7.71" fill="#fff7f7"/>
<rect x="201.88" y="270.75" width="20.08" height="7.71" fill="#ffabab"/>
<rect x="225.44" y="270.75" width="20.08" height="7.71" fill="#ffebeb"/>
<rect x="245.52" y="270.75" width="20.08" height="7.71" fill="#ffebeb"/>
<rect x="269.08" y="270.75" width="20.08" height="7.71" fill="#ffe6e6"/>
<rect x="289.16" y="270.75" width="20.08" height="7.71" fill="#ffe6e6"/>
<rect x="312.72" y="270.75" width="20.08" height="7.71" fill="#ffeded"/>
<rect x="332.80" y="270.75" width="20.08" height="7.71" fill="#ffeded"/>
<rect x="352.88" y="270.75" width="20.08" height="7.71" fill="#ffebeb"/>
<text transform="translate(375.6 277.00) rotate(0.05)" font-size="6.67" fill="#000" stroke="#000" stroke-width="0.12">FOXD2</text>
<rect x="5.2" y="278.45" width="6.3" height="7.71" fill="#CDC9C9" stroke="#aaa" stroke-width="0.4"/>
<rect x="14.20" y="278.45" width="20.08" height="7.71" fill="#ffeded"/>
<rect x="54.36" y="278.45" width="20.08" height="7.71" fill="#fff2f2"/>
<rect x="77.92" y="278.45" width="20.08" height="7.71" fill="#ffe6e6"/>
<rect x="98.00" y="278.45" width="20.08" height="7.71" fill="#ffbdbd"/>
<rect x="118.08" y="278.45" width="20.08" height="7.71" fill="#ffd1d1"/>
<rect x="138.16" y="278.45" width="20.08" height="7.71" fill="#ffbdbd"/>
<rect x="158.24" y="278.45" width="20.08" height="7.71" fill="#ffc9c9"/>
<rect x="181.80" y="278.45" width="20.08" height="7.71" fill="#ffe6e6"/>
<rect x="201.88" y="278.45" width="20.08" height="7.71" fill="#fff2f2"/>
<rect x="225.44" y="278.45" width="20.08" height="7.71" fill="#ffeded"/>
<rect x="245.52" y="278.45" width="20.08" height="7.71" fill="#ffebeb"/>
<rect x="269.08" y="278.45" width="20.08" height="7.71" fill="#ffeded"/>
<rect x="289.16" y="278.45" width="20.08" height="7.71" fill="#ffe6e6"/>
<rect x="312.72" y="278.45" width="20.08" height="7.71" fill="#fff2f2"/>
<rect x="332.80" y="278.45" width="20.08" height="7.71" fill="#ffeded"/>
<rect x="352.88" y="278.45" width="20.08" height="7.71" fill="#ffe6e6"/>
<text transform="translate(375.6 284.70) rotate(0.05)" font-size="6.67" fill="#000" stroke="#000" stroke-width="0.12">ENSBTAG00000037531</text>
<rect x="5.2" y="286.16" width="6.3" height="7.71" fill="#CDC9C9" stroke="#aaa" stroke-width="0.4"/>
<rect x="77.92" y="286.16" width="20.08" height="7.71" fill="#ffc7c7"/>
<rect x="98.00" y="286.16" width="20.08" height="7.71" fill="#ffc2c2"/>
<rect x="118.08" y="286.16" width="20.08" height="7.71" fill="#ffcccc"/>
<rect x="138.16" y="286.16" width="20.08" height="7.71" fill="#ffcccc"/>
<rect x="158.24" y="286.16" width="20.08" height="7.71" fill="#ffcccc"/>
<rect x="181.80" y="286.16" width="20.08" height="7.71" fill="#fffafa"/>
<rect x="225.44" y="286.16" width="20.08" height="7.71" fill="#fff2f2"/>
<rect x="245.52" y="286.16" width="20.08" height="7.71" fill="#fff2f2"/>
<rect x="289.16" y="286.16" width="20.08" height="7.71" fill="#ffe6e6"/>
<rect x="352.88" y="286.16" width="20.08" height="7.71" fill="#fffafa"/>
<text transform="translate(375.6 292.41) rotate(0.05)" font-size="6.67" fill="#000" stroke="#000" stroke-width="0.12">KIF19</text>
<rect x="5.2" y="293.86" width="6.3" height="7.71" fill="#CDC9C9" stroke="#aaa" stroke-width="0.4"/>
<rect x="14.20" y="293.86" width="20.08" height="7.71" fill="#fff7f7"/>
<rect x="54.36" y="293.86" width="20.08" height="7.71" fill="#fff2f2"/>
<rect x="77.92" y="293.86" width="20.08" height="7.71" fill="#ffebeb"/>
<rect x="98.00" y="293.86" width="20.08" height="7.71" fill="#ffbdbd"/>
<rect x="118.08" y="293.86" width="20.08" height="7.71" fill="#ffe8e8"/>
<rect x="138.16" y="293.86" width="20.08" height="7.71" fill="#ffebeb"/>
<rect x="158.24" y="293.86" width="20.08" height="7.71" fill="#ffe6e6"/>
<rect x="181.80" y="293.86" width="20.08" height="7.71" fill="#fff2f2"/>
<rect x="289.16" y="293.86" width="20.08" height="7.71" fill="#fffafa"/>
<rect x="312.72" y="293.86" width="20.08" height="7.71" fill="#ffe6e6"/>
<rect x="332.80" y="293.86" width="20.08" height="7.71" fill="#ffe6e6"/>
<rect x="352.88" y="293.86" width="20.08" height="7.71" fill="#ffd9d9"/>
<text transform="translate(375.6 300.11) rotate(0.05)" font-size="6.67" fill="#000" stroke="#000" stroke-width="0.12">ENSBTAG00000004354</text>
<rect x="5.2" y="301.57" width="6.3" height="7.71" fill="#FFA347" stroke="#aaa" stroke-width="0.4"/>
<rect x="14.20" y="301.57" width="20.08" height="7.71" fill="#fffafa"/>
<rect x="54.36" y="301.57" width="20.08" height="7.71" fill="#fffafa"/>
<rect x="77.92" y="301.57" width="20.08" height="7.71" fill="#fff2f2"/>
<rect x="98.00" y="301.57" width="20.08" height="7.71" fill="#ffd9d9"/>
<rect x="118.08" y="301.57" width="20.08" height="7.71" fill="#fff2f2"/>
<rect x="138.16" y="301.57" width="20.08" height="7.71" fill="#fff2f2"/>
<rect x="158.24" y="301.57" width="20.08" height="7.71" fill="#fff0f0"/>
<rect x="181.80" y="301.57" width="20.08" height="7.71" fill="#fff7f7"/>
<rect x="269.08" y="301.57" width="20.08" height="7.71" fill="#ffebeb"/>
<rect x="289.16" y="301.57" width="20.08" height="7.71" fill="#fffafa"/>
<rect x="312.72" y="301.57" width="20.08" height="7.71" fill="#fff2f2"/>
<rect x="332.80" y="301.57" width="20.08" height="7.71" fill="#ffe0e0"/>
<rect x="352.88" y="301.57" width="20.08" height="7.71" fill="#ffebeb"/>
<text transform="translate(375.6 307.82) rotate(0.05)" font-size="6.67" fill="#000" stroke="#000" stroke-width="0.12">SSPO</text>
<rect x="5.2" y="309.27" width="6.3" height="7.71" fill="#FFA347" stroke="#aaa" stroke-width="0.4"/>
<rect x="14.20" y="309.27" width="20.08" height="7.71" fill="#fff2f2"/>
<rect x="98.00" y="309.27" width="20.08" height="7.71" fill="#fff7f7"/>
<rect x="118.08" y="309.27" width="20.08" height="7.71" fill="#fffcfc"/>
<rect x="138.16" y="309.27" width="20.08" height="7.71" fill="#fffafa"/>
<rect x="158.24" y="309.27" width="20.08" height="7.71" fill="#fffafa"/>
<rect x="181.80" y="309.27" width="20.08" height="7.71" fill="#ffe6e6"/>
<rect x="269.08" y="309.27" width="20.08" height="7.71" fill="#fff2f2"/>
<rect x="312.72" y="309.27" width="20.08" height="7.71" fill="#fff2f2"/>
<rect x="332.80" y="309.27" width="20.08" height="7.71" fill="#ffe0e0"/>
<rect x="352.88" y="309.27" width="20.08" height="7.71" fill="#fff2f2"/>
<text transform="translate(375.6 315.52) rotate(0.05)" font-size="6.67" fill="#000" stroke="#000" stroke-width="0.12">DSG1</text>
<rect x="5.2" y="316.98" width="6.3" height="7.71" fill="#8470FF" stroke="#aaa" stroke-width="0.4"/>
<rect x="118.08" y="316.98" width="20.08" height="7.71" fill="#fffcfc"/>
<rect x="138.16" y="316.98" width="20.08" height="7.71" fill="#fffcfc"/>
<rect x="158.24" y="316.98" width="20.08" height="7.71" fill="#ffeded"/>
<rect x="181.80" y="316.98" width="20.08" height="7.71" fill="#fff7f7"/>
<rect x="201.88" y="316.98" width="20.08" height="7.71" fill="#ffd9d9"/>
<rect x="245.52" y="316.98" width="20.08" height="7.71" fill="#fffafa"/>
<rect x="289.16" y="316.98" width="20.08" height="7.71" fill="#ffeded"/>
<rect x="352.88" y="316.98" width="20.08" height="7.71" fill="#fff7f7"/>
<text transform="translate(375.6 323.23) rotate(0.05)" font-size="6.67" fill="#000" stroke="#000" stroke-width="0.12">RIIAD1</text>
<path d="M14.20 47.30H74.44M14.20 55.00H74.44M14.20 62.71H74.44M14.20 70.41H74.44M14.20 78.12H74.44M14.20 85.82H74.44M14.20 93.53H74.44M14.20 101.23H74.44M14.20 108.94H74.44M14.20 116.64H74.44M14.20 124.35H74.44M14.20 132.06H74.44M14.20 139.76H74.44M14.20 147.47H74.44M14.20 155.17H74.44M14.20 162.88H74.44M14.20 170.58H74.44M14.20 178.29H74.44M14.20 185.99H74.44M14.20 193.69H74.44M14.20 201.40H74.44M14.20 209.11H74.44M14.20 216.81H74.44M14.20 224.51H74.44M14.20 232.22H74.44M14.20 239.93H74.44M14.20 247.63H74.44M14.20 255.33H74.44M14.20 263.04H74.44M14.20 270.75H74.44M14.20 278.45H74.44M14.20 286.15H74.44M14.20 293.86H74.44M14.20 301.56H74.44M14.20 309.27H74.44M14.20 316.98H74.44M14.20 324.68H74.44M14.20 47.30V324.68M34.28 47.30V324.68M54.36 47.30V324.68M74.44 47.30V324.68M77.92 47.30H178.32M77.92 55.00H178.32M77.92 62.71H178.32M77.92 70.41H178.32M77.92 78.12H178.32M77.92 85.82H178.32M77.92 93.53H178.32M77.92 101.23H178.32M77.92 108.94H178.32M77.92 116.64H178.32M77.92 124.35H178.32M77.92 132.06H178.32M77.92 139.76H178.32M77.92 147.47H178.32M77.92 155.17H178.32M77.92 162.88H178.32M77.92 170.58H178.32M77.92 178.29H178.32M77.92 185.99H178.32M77.92 193.69H178.32M77.92 201.40H178.32M77.92 209.11H178.32M77.92 216.81H178.32M77.92 224.51H178.32M77.92 232.22H178.32M77.92 239.93H178.32M77.92 247.63H178.32M77.92 255.33H178.32M77.92 263.04H178.32M77.92 270.75H178.32M77.92 278.45H178.32M77.92 286.15H178.32M77.92 293.86H178.32M77.92 301.56H178.32M77.92 309.27H178.32M77.92 316.98H178.32M77.92 324.68H178.32M77.92 47.30V324.68M98.00 47.30V324.68M118.08 47.30V324.68M138.16 47.30V324.68M158.24 47.30V324.68M178.32 47.30V324.68M181.80 47.30H221.96M181.80 55.00H221.96M181.80 62.71H221.96M181.80 70.41H221.96M181.80 78.12H221.96M181.80 85.82H221.96M181.80 93.53H221.96M181.80 101.23H221.96M181.80 108.94H221.96M181.80 116.64H221.96M181.80 124.35H221.96M181.80 132.06H221.96M181.80 139.76H221.96M181.80 147.47H221.96M181.80 155.17H221.96M181.80 162.88H221.96M181.80 170.58H221.96M181.80 178.29H221.96M181.80 185.99H221.96M181.80 193.69H221.96M181.80 201.40H221.96M181.80 209.11H221.96M181.80 216.81H221.96M181.80 224.51H221.96M181.80 232.22H221.96M181.80 239.93H221.96M181.80 247.63H221.96M181.80 255.33H221.96M181.80 263.04H221.96M181.80 270.75H221.96M181.80 278.45H221.96M181.80 286.15H221.96M181.80 293.86H221.96M181.80 301.56H221.96M181.80 309.27H221.96M181.80 316.98H221.96M181.80 324.68H221.96M181.80 47.30V324.68M201.88 47.30V324.68M221.96 47.30V324.68M225.44 47.30H265.60M225.44 55.00H265.60M225.44 62.71H265.60M225.44 70.41H265.60M225.44 78.12H265.60M225.44 85.82H265.60M225.44 93.53H265.60M225.44 101.23H265.60M225.44 108.94H265.60M225.44 116.64H265.60M225.44 124.35H265.60M225.44 132.06H265.60M225.44 139.76H265.60M225.44 147.47H265.60M225.44 155.17H265.60M225.44 162.88H265.60M225.44 170.58H265.60M225.44 178.29H265.60M225.44 185.99H265.60M225.44 193.69H265.60M225.44 201.40H265.60M225.44 209.11H265.60M225.44 216.81H265.60M225.44 224.51H265.60M225.44 232.22H265.60M225.44 239.93H265.60M225.44 247.63H265.60M225.44 255.33H265.60M225.44 263.04H265.60M225.44 270.75H265.60M225.44 278.45H265.60M225.44 286.15H265.60M225.44 293.86H265.60M225.44 301.56H265.60M225.44 309.27H265.60M225.44 316.98H265.60M225.44 324.68H265.60M225.44 47.30V324.68M245.52 47.30V324.68M265.60 47.30V324.68M269.08 47.30H309.24M269.08 55.00H309.24M269.08 62.71H309.24M269.08 70.41H309.24M269.08 78.12H309.24M269.08 85.82H309.24M269.08 93.53H309.24M269.08 101.23H309.24M269.08 108.94H309.24M269.08 116.64H309.24M269.08 124.35H309.24M269.08 132.06H309.24M269.08 139.76H309.24M269.08 147.47H309.24M269.08 155.17H309.24M269.08 162.88H309.24M269.08 170.58H309.24M269.08 178.29H309.24M269.08 185.99H309.24M269.08 193.69H309.24M269.08 201.40H309.24M269.08 209.11H309.24M269.08 216.81H309.24M269.08 224.51H309.24M269.08 232.22H309.24M269.08 239.93H309.24M269.08 247.63H309.24M269.08 255.33H309.24M269.08 263.04H309.24M269.08 270.75H309.24M269.08 278.45H309.24M269.08 286.15H309.24M269.08 293.86H309.24M269.08 301.56H309.24M269.08 309.27H309.24M269.08 316.98H309.24M269.08 324.68H309.24M269.08 47.30V324.68M289.16 47.30V324.68M309.24 47.30V324.68M312.72 47.30H372.96M312.72 55.00H372.96M312.72 62.71H372.96M312.72 70.41H372.96M312.72 78.12H372.96M312.72 85.82H372.96M312.72 93.53H372.96M312.72 101.23H372.96M312.72 108.94H372.96M312.72 116.64H372.96M312.72 124.35H372.96M312.72 132.06H372.96M312.72 139.76H372.96M312.72 147.47H372.96M312.72 155.17H372.96M312.72 162.88H372.96M312.72 170.58H372.96M312.72 178.29H372.96M312.72 185.99H372.96M312.72 193.69H372.96M312.72 201.40H372.96M312.72 209.11H372.96M312.72 216.81H372.96M312.72 224.51H372.96M312.72 232.22H372.96M312.72 239.93H372.96M312.72 247.63H372.96M312.72 255.33H372.96M312.72 263.04H372.96M312.72 270.75H372.96M312.72 278.45H372.96M312.72 286.15H372.96M312.72 293.86H372.96M312.72 301.56H372.96M312.72 309.27H372.96M312.72 316.98H372.96M312.72 324.68H372.96M312.72 47.30V324.68M332.80 47.30V324.68M352.88 47.30V324.68M372.96 47.30V324.68" fill="none" stroke="#969696" stroke-width="0.5" stroke-linecap="square"/>
<rect x="5.2" y="328.08" width="6.3" height="7.71" fill="#8470FF" stroke="#aaa" stroke-width="0.4"/>
<rect x="14.20" y="328.08" width="20.08" height="7.71" fill="#ff5959"/>
<rect x="34.28" y="328.08" width="20.08" height="7.71" fill="#ff7373"/>
<rect x="54.36" y="328.08" width="20.08" height="7.71" fill="#ff8c8c"/>
<rect x="77.92" y="328.08" width="20.08" height="7.71" fill="#ff5959"/>
<rect x="98.00" y="328.08" width="20.08" height="7.71" fill="#ff7373"/>
<rect x="118.08" y="328.08" width="20.08" height="7.71" fill="#ff6666"/>
<rect x="138.16" y="328.08" width="20.08" height="7.71" fill="#ff7373"/>
<rect x="158.24" y="328.08" width="20.08" height="7.71" fill="#ff7373"/>
<rect x="181.80" y="328.08" width="20.08" height="7.71" fill="#ff7373"/>
<rect x="201.88" y="328.08" width="20.08" height="7.71" fill="#ff5959"/>
<rect x="225.44" y="328.08" width="20.08" height="7.71" fill="#ff5959"/>
<rect x="245.52" y="328.08" width="20.08" height="7.71" fill="#ff4d4d"/>
<rect x="269.08" y="328.08" width="20.08" height="7.71" fill="#ff4040"/>
<rect x="289.16" y="328.08" width="20.08" height="7.71" fill="#ff4040"/>
<rect x="312.72" y="328.08" width="20.08" height="7.71" fill="#ff1919"/>
<rect x="332.80" y="328.08" width="20.08" height="7.71" fill="#ff2626"/>
<rect x="352.88" y="328.08" width="20.08" height="7.71" fill="#ff0d0d"/>
<text transform="translate(375.6 334.33) rotate(0.05)" font-size="6.67" fill="#000" stroke="#000" stroke-width="0.12">IFITM2</text>
<rect x="5.2" y="335.79" width="6.3" height="7.71" fill="#CDC9C9" stroke="#aaa" stroke-width="0.4"/>
<rect x="14.20" y="335.79" width="20.08" height="7.71" fill="#ff6666"/>
<rect x="34.28" y="335.79" width="20.08" height="7.71" fill="#ff7373"/>
<rect x="54.36" y="335.79" width="20.08" height="7.71" fill="#ff6666"/>
<rect x="77.92" y="335.79" width="20.08" height="7.71" fill="#ff7373"/>
<rect x="98.00" y="335.79" width="20.08" height="7.71" fill="#ff3333"/>
<rect x="118.08" y="335.79" width="20.08" height="7.71" fill="#ff4d4d"/>
<rect x="138.16" y="335.79" width="20.08" height="7.71" fill="#ff4d4d"/>
<rect x="158.24" y="335.79" width="20.08" height="7.71" fill="#ff4040"/>
<rect x="181.80" y="335.79" width="20.08" height="7.71" fill="#ff7373"/>
<rect x="201.88" y="335.79" width="20.08" height="7.71" fill="#ff7373"/>
<rect x="225.44" y="335.79" width="20.08" height="7.71" fill="#ff7373"/>
<rect x="245.52" y="335.79" width="20.08" height="7.71" fill="#ff6666"/>
<rect x="269.08" y="335.79" width="20.08" height="7.71" fill="#ff7373"/>
<rect x="289.16" y="335.79" width="20.08" height="7.71" fill="#ff7373"/>
<rect x="312.72" y="335.79" width="20.08" height="7.71" fill="#ff5959"/>
<rect x="332.80" y="335.79" width="20.08" height="7.71" fill="#ff6666"/>
<rect x="352.88" y="335.79" width="20.08" height="7.71" fill="#ff7373"/>
<text transform="translate(375.6 342.04) rotate(0.05)" font-size="6.67" fill="#000" stroke="#000" stroke-width="0.12">ENSBTAG00000006756</text>
<rect x="5.2" y="343.49" width="6.3" height="7.71" fill="#CDC9C9" stroke="#aaa" stroke-width="0.4"/>
<rect x="14.20" y="343.49" width="20.08" height="7.71" fill="#ff6666"/>
<rect x="34.28" y="343.49" width="20.08" height="7.71" fill="#ff7373"/>
<rect x="54.36" y="343.49" width="20.08" height="7.71" fill="#ff7373"/>
<rect x="77.92" y="343.49" width="20.08" height="7.71" fill="#ff7373"/>
<rect x="98.00" y="343.49" width="20.08" height="7.71" fill="#ff8c8c"/>
<rect x="118.08" y="343.49" width="20.08" height="7.71" fill="#ff7373"/>
<rect x="138.16" y="343.49" width="20.08" height="7.71" fill="#ff8080"/>
<rect x="158.24" y="343.49" width="20.08" height="7.71" fill="#ff8080"/>
<rect x="181.80" y="343.49" width="20.08" height="7.71" fill="#ff7373"/>
<rect x="201.88" y="343.49" width="20.08" height="7.71" fill="#ff5959"/>
<rect x="225.44" y="343.49" width="20.08" height="7.71" fill="#ff6666"/>
<rect x="245.52" y="343.49" width="20.08" height="7.71" fill="#ff4040"/>
<rect x="269.08" y="343.49" width="20.08" height="7.71" fill="#ff8080"/>
<rect x="289.16" y="343.49" width="20.08" height="7.71" fill="#ff8080"/>
<rect x="312.72" y="343.49" width="20.08" height="7.71" fill="#ff7373"/>
<rect x="332.80" y="343.49" width="20.08" height="7.71" fill="#ff7373"/>
<rect x="352.88" y="343.49" width="20.08" height="7.71" fill="#ff7373"/>
<text transform="translate(375.6 349.74) rotate(0.05)" font-size="6.67" fill="#000" stroke="#000" stroke-width="0.12">ENSBTAG00000025280</text>
<rect x="5.2" y="351.19" width="6.3" height="7.71" fill="#8470FF" stroke="#aaa" stroke-width="0.4"/>
<rect x="14.20" y="351.19" width="20.08" height="7.71" fill="#ff6666"/>
<rect x="34.28" y="351.19" width="20.08" height="7.71" fill="#ff3333"/>
<rect x="54.36" y="351.19" width="20.08" height="7.71" fill="#ff4040"/>
<rect x="77.92" y="351.19" width="20.08" height="7.71" fill="#ff7373"/>
<rect x="98.00" y="351.19" width="20.08" height="7.71" fill="#ff8080"/>
<rect x="118.08" y="351.19" width="20.08" height="7.71" fill="#ff8080"/>
<rect x="138.16" y="351.19" width="20.08" height="7.71" fill="#ff8c8c"/>
<rect x="158.24" y="351.19" width="20.08" height="7.71" fill="#ff8c8c"/>
<rect x="181.80" y="351.19" width="20.08" height="7.71" fill="#ff8c8c"/>
<rect x="201.88" y="351.19" width="20.08" height="7.71" fill="#ff8080"/>
<rect x="225.44" y="351.19" width="20.08" height="7.71" fill="#ff8080"/>
<rect x="245.52" y="351.19" width="20.08" height="7.71" fill="#ff7373"/>
<rect x="269.08" y="351.19" width="20.08" height="7.71" fill="#ff8080"/>
<rect x="289.16" y="351.19" width="20.08" height="7.71" fill="#ff8c8c"/>
<rect x="312.72" y="351.19" width="20.08" height="7.71" fill="#ff8080"/>
<rect x="332.80" y="351.19" width="20.08" height="7.71" fill="#ff8080"/>
<rect x="352.88" y="351.19" width="20.08" height="7.71" fill="#ff8080"/>
<text transform="translate(375.6 357.45) rotate(0.05)" font-size="6.67" fill="#000" stroke="#000" stroke-width="0.12">CTDNEP1</text>
<rect x="5.2" y="358.90" width="6.3" height="7.71" fill="#8470FF" stroke="#aaa" stroke-width="0.4"/>
<rect x="14.20" y="358.90" width="20.08" height="7.71" fill="#ff4d4d"/>
<rect x="34.28" y="358.90" width="20.08" height="7.71" fill="#ff4040"/>
<rect x="54.36" y="358.90" width="20.08" height="7.71" fill="#ff4040"/>
<rect x="77.92" y="358.90" width="20.08" height="7.71" fill="#ff7373"/>
<rect x="98.00" y="358.90" width="20.08" height="7.71" fill="#ff8080"/>
<rect x="118.08" y="358.90" width="20.08" height="7.71" fill="#ff7373"/>
<rect x="138.16" y="358.90" width="20.08" height="7.71" fill="#ff7373"/>
<rect x="158.24" y="358.90" width="20.08" height="7.71" fill="#ff7373"/>
<rect x="181.80" y="358.90" width="20.08" height="7.71" fill="#ff7373"/>
<rect x="201.88" y="358.90" width="20.08" height="7.71" fill="#ff6666"/>
<rect x="225.44" y="358.90" width="20.08" height="7.71" fill="#ff7373"/>
<rect x="245.52" y="358.90" width="20.08" height="7.71" fill="#ff7373"/>
<rect x="269.08" y="358.90" width="20.08" height="7.71" fill="#ff6666"/>
<rect x="289.16" y="358.90" width="20.08" height="7.71" fill="#ff7373"/>
<rect x="312.72" y="358.90" width="20.08" height="7.71" fill="#ff7373"/>
<rect x="332.80" y="358.90" width="20.08" height="7.71" fill="#ff7373"/>
<rect x="352.88" y="358.90" width="20.08" height="7.71" fill="#ff6666"/>
<text transform="translate(375.6 365.15) rotate(0.05)" font-size="6.67" fill="#000" stroke="#000" stroke-width="0.12">PL-5283</text>
<rect x="5.2" y="366.60" width="6.3" height="7.71" fill="#CDC9C9" stroke="#aaa" stroke-width="0.4"/>
<rect x="14.20" y="366.60" width="20.08" height="7.71" fill="#ff7373"/>
<rect x="34.28" y="366.60" width="20.08" height="7.71" fill="#ffb2b2"/>
<rect x="54.36" y="366.60" width="20.08" height="7.71" fill="#ffa6a6"/>
<rect x="77.92" y="366.60" width="20.08" height="7.71" fill="#ff8c8c"/>
<rect x="98.00" y="366.60" width="20.08" height="7.71" fill="#ffb2b2"/>
<rect x="118.08" y="366.60" width="20.08" height="7.71" fill="#ff8c8c"/>
<rect x="138.16" y="366.60" width="20.08" height="7.71" fill="#ffa6a6"/>
<rect x="158.24" y="366.60" width="20.08" height="7.71" fill="#ffa6a6"/>
<rect x="181.80" y="366.60" width="20.08" height="7.71" fill="#ff1919"/>
<rect x="201.88" y="366.60" width="20.08" height="7.71" fill="#ff4040"/>
<rect x="225.44" y="366.60" width="20.08" height="7.71" fill="#ff7373"/>
<rect x="245.52" y="366.60" width="20.08" height="7.71" fill="#ff7373"/>
<rect x="269.08" y="366.60" width="20.08" height="7.71" fill="#ff8080"/>
<rect x="289.16" y="366.60" width="20.08" height="7.71" fill="#ff8080"/>
<rect x="312.72" y="366.60" width="20.08" height="7.71" fill="#ff5959"/>
<rect x="332.80" y="366.60" width="20.08" height="7.71" fill="#ffa6a6"/>
<rect x="352.88" y="366.60" width="20.08" height="7.71" fill="#ffb8b8"/>
<text transform="translate(375.6 372.86) rotate(0.05)" font-size="6.67" fill="#000" stroke="#000" stroke-width="0.12">DCXR</text>
<rect x="5.2" y="374.31" width="6.3" height="7.71" fill="#CDC9C9" stroke="#aaa" stroke-width="0.4"/>
<rect x="14.20" y="374.31" width="20.08" height="7.71" fill="#ffa6a6"/>
<rect x="34.28" y="374.31" width="20.08" height="7.71" fill="#ff9999"/>
<rect x="54.36" y="374.31" width="20.08" height="7.71" fill="#ff9999"/>
<rect x="77.92" y="374.31" width="20.08" height="7.71" fill="#ff8c8c"/>
<rect x="98.00" y="374.31" width="20.08" height="7.71" fill="#ffa6a6"/>
<rect x="118.08" y="374.31" width="20.08" height="7.71" fill="#ff8c8c"/>
<rect x="138.16" y="374.31" width="20.08" height="7.71" fill="#ff8c8c"/>
<rect x="158.24" y="374.31" width="20.08" height="7.71" fill="#ff8c8c"/>
<rect x="181.80" y="374.31" width="20.08" height="7.71" fill="#ff3333"/>
<rect x="201.88" y="374.31" width="20.08" height="7.71" fill="#ff4d4d"/>
<rect x="225.44" y="374.31" width="20.08" height="7.71" fill="#ff7373"/>
<rect x="245.52" y="374.31" width="20.08" height="7.71" fill="#ff5959"/>
<rect x="269.08" y="374.31" width="20.08" height="7.71" fill="#ffcccc"/>
<rect x="289.16" y="374.31" width="20.08" height="7.71" fill="#ff8585"/>
<rect x="312.72" y="374.31" width="20.08" height="7.71" fill="#ffbfbf"/>
<rect x="332.80" y="374.31" width="20.08" height="7.71" fill="#ffd1d1"/>
<rect x="352.88" y="374.31" width="20.08" height="7.71" fill="#ffd9d9"/>
<text transform="translate(375.6 380.56) rotate(0.05)" font-size="6.67" fill="#000" stroke="#000" stroke-width="0.12">ENSBTAG00000023384</text>
<rect x="5.2" y="382.01" width="6.3" height="7.71" fill="#CDC9C9" stroke="#aaa" stroke-width="0.4"/>
<rect x="14.20" y="382.01" width="20.08" height="7.71" fill="#ffb8b8"/>
<rect x="34.28" y="382.01" width="20.08" height="7.71" fill="#ffc4c4"/>
<rect x="54.36" y="382.01" width="20.08" height="7.71" fill="#ffbfbf"/>
<rect x="77.92" y="382.01" width="20.08" height="7.71" fill="#ffb2b2"/>
<rect x="98.00" y="382.01" width="20.08" height="7.71" fill="#ff9e9e"/>
<rect x="118.08" y="382.01" width="20.08" height="7.71" fill="#ffa6a6"/>
<rect x="138.16" y="382.01" width="20.08" height="7.71" fill="#ff9e9e"/>
<rect x="158.24" y="382.01" width="20.08" height="7.71" fill="#ff9e9e"/>
<rect x="181.80" y="382.01" width="20.08" height="7.71" fill="#ff8585"/>
<rect x="201.88" y="382.01" width="20.08" height="7.71" fill="#ffa6a6"/>
<rect x="225.44" y="382.01" width="20.08" height="7.71" fill="#ff8c8c"/>
<rect x="245.52" y="382.01" width="20.08" height="7.71" fill="#ff8c8c"/>
<rect x="269.08" y="382.01" width="20.08" height="7.71" fill="#ff9999"/>
<rect x="289.16" y="382.01" width="20.08" height="7.71" fill="#ff9999"/>
<rect x="312.72" y="382.01" width="20.08" height="7.71" fill="#ff9999"/>
<rect x="332.80" y="382.01" width="20.08" height="7.71" fill="#ff9999"/>
<rect x="352.88" y="382.01" width="20.08" height="7.71" fill="#ff9e9e"/>
<text transform="translate(375.6 388.27) rotate(0.05)" font-size="6.67" fill="#000" stroke="#000" stroke-width="0.12">MAN1B1</text>
<rect x="5.2" y="389.72" width="6.3" height="7.71" fill="#CDC9C9" stroke="#aaa" stroke-width="0.4"/>
<rect x="14.20" y="389.72" width="20.08" height="7.71" fill="#ff9999"/>
<rect x="34.28" y="389.72" width="20.08" height="7.71" fill="#ff9999"/>
<rect x="54.36" y="389.72" width="20.08" height="7.71" fill="#ff9999"/>
<rect x="77.92" y="389.72" width="20.08" height="7.71" fill="#ffa6a6"/>
<rect x="98.00" y="389.72" width="20.08" height="7.71" fill="#ff9e9e"/>
<rect x="118.08" y="389.72" width="20.08" height="7.71" fill="#ff9999"/>
<rect x="138.16" y="389.72" width="20.08" height="7.71" fill="#ff9999"/>
<rect x="158.24" y="389.72" width="20.08" height="7.71" fill="#ff9999"/>
<rect x="181.80" y="389.72" width="20.08" height="7.71" fill="#ff9e9e"/>
<rect x="201.88" y="389.72" width="20.08" height="7.71" fill="#ff9e9e"/>
<rect x="225.44" y="389.72" width="20.08" height="7.71" fill="#ffa6a6"/>
<rect x="245.52" y="389.72" width="20.08" height="7.71" fill="#ffa6a6"/>
<rect x="269.08" y="389.72" width="20.08" height="7.71" fill="#ff9e9e"/>
<rect x="289.16" y="389.72" width="20.08" height="7.71" fill="#ffb2b2"/>
<rect x="312.72" y="389.72" width="20.08" height="7.71" fill="#ffa6a6"/>
<rect x="332.80" y="389.72" width="20.08" height="7.71" fill="#ffa6a6"/>
<rect x="352.88" y="389.72" width="20.08" height="7.71" fill="#ffa6a6"/>
<text transform="translate(375.6 395.97) rotate(0.05)" font-size="6.67" fill="#000" stroke="#000" stroke-width="0.12">FBXL17</text>
<rect x="5.2" y="397.42" width="6.3" height="7.71" fill="#FFA347" stroke="#aaa" stroke-width="0.4"/>
<rect x="14.20" y="397.42" width="20.08" height="7.71" fill="#ffa6a6"/>
<rect x="34.28" y="397.42" width="20.08" height="7.71" fill="#ffb2b2"/>
<rect x="54.36" y="397.42" width="20.08" height="7.71" fill="#ffb2b2"/>
<rect x="77.92" y="397.42" width="20.08" height="7.71" fill="#ff9999"/>
<rect x="98.00" y="397.42" width="20.08" height="7.71" fill="#ff9999"/>
<rect x="118.08" y="397.42" width="20.08" height="7.71" fill="#ff9999"/>
<rect x="138.16" y="397.42" width="20.08" height="7.71" fill="#ff8c8c"/>
<rect x="158.24" y="397.42" width="20.08" height="7.71" fill="#ff8c8c"/>
<rect x="181.80" y="397.42" width="20.08" height="7.71" fill="#ff9999"/>
<rect x="201.88" y="397.42" width="20.08" height="7.71" fill="#ffa6a6"/>
<rect x="225.44" y="397.42" width="20.08" height="7.71" fill="#ff9e9e"/>
<rect x="245.52" y="397.42" width="20.08" height="7.71" fill="#ff9e9e"/>
<rect x="269.08" y="397.42" width="20.08" height="7.71" fill="#ff9e9e"/>
<rect x="289.16" y="397.42" width="20.08" height="7.71" fill="#ffa6a6"/>
<rect x="312.72" y="397.42" width="20.08" height="7.71" fill="#ffa6a6"/>
<rect x="332.80" y="397.42" width="20.08" height="7.71" fill="#ff9e9e"/>
<rect x="352.88" y="397.42" width="20.08" height="7.71" fill="#ff9e9e"/>
<text transform="translate(375.6 403.68) rotate(0.05)" font-size="6.67" fill="#000" stroke="#000" stroke-width="0.12">MGC155012</text>
<rect x="5.2" y="405.13" width="6.3" height="7.71" fill="#CDC9C9" stroke="#aaa" stroke-width="0.4"/>
<rect x="14.20" y="405.13" width="20.08" height="7.71" fill="#ffb2b2"/>
<rect x="34.28" y="405.13" width="20.08" height="7.71" fill="#ff8585"/>
<rect x="54.36" y="405.13" width="20.08" height="7.71" fill="#ff8c8c"/>
<rect x="77.92" y="405.13" width="20.08" height="7.71" fill="#ff9999"/>
<rect x="98.00" y="405.13" width="20.08" height="7.71" fill="#ff9e9e"/>
<rect x="118.08" y="405.13" width="20.08" height="7.71" fill="#ff9e9e"/>
<rect x="138.16" y="405.13" width="20.08" height="7.71" fill="#ff9999"/>
<rect x="158.24" y="405.13" width="20.08" height="7.71" fill="#ff9999"/>
<rect x="181.80" y="405.13" width="20.08" height="7.71" fill="#ff8c8c"/>
<rect x="201.88" y="405.13" width="20.08" height="7.71" fill="#ffabab"/>
<rect x="225.44" y="405.13" width="20.08" height="7.71" fill="#ff9999"/>
<rect x="245.52" y="405.13" width="20.08" height="7.71" fill="#ff9999"/>
<rect x="269.08" y="405.13" width="20.08" height="7.71" fill="#ff9999"/>
<rect x="289.16" y="405.13" width="20.08" height="7.71" fill="#ff9e9e"/>
<rect x="312.72" y="405.13" width="20.08" height="7.71" fill="#ff9999"/>
<rect x="332.80" y="405.13" width="20.08" height="7.71" fill="#ff9191"/>
<rect x="352.88" y="405.13" width="20.08" height="7.71" fill="#ff9999"/>
<text transform="translate(375.6 411.38) rotate(0.05)" font-size="6.67" fill="#000" stroke="#000" stroke-width="0.12">GALNT1</text>
<rect x="5.2" y="412.83" width="6.3" height="7.71" fill="#CDC9C9" stroke="#aaa" stroke-width="0.4"/>
<rect x="14.20" y="412.83" width="20.08" height="7.71" fill="#ffbfbf"/>
<rect x="34.28" y="412.83" width="20.08" height="7.71" fill="#ff9999"/>
<rect x="54.36" y="412.83" width="20.08" height="7.71" fill="#ff9e9e"/>
<rect x="77.92" y="412.83" width="20.08" height="7.71" fill="#ffcccc"/>
<rect x="98.00" y="412.83" width="20.08" height="7.71" fill="#ffa6a6"/>
<rect x="118.08" y="412.83" width="20.08" height="7.71" fill="#ffbfbf"/>
<rect x="138.16" y="412.83" width="20.08" height="7.71" fill="#ffa6a6"/>
<rect x="158.24" y="412.83" width="20.08" height="7.71" fill="#ffa6a6"/>
<rect x="181.80" y="412.83" width="20.08" height="7.71" fill="#ffabab"/>
<rect x="201.88" y="412.83" width="20.08" height="7.71" fill="#ffa6a6"/>
<rect x="225.44" y="412.83" width="20.08" height="7.71" fill="#ffa6a6"/>
<rect x="245.52" y="412.83" width="20.08" height="7.71" fill="#ffa6a6"/>
<rect x="269.08" y="412.83" width="20.08" height="7.71" fill="#ff9e9e"/>
<rect x="289.16" y="412.83" width="20.08" height="7.71" fill="#ffb2b2"/>
<rect x="312.72" y="412.83" width="20.08" height="7.71" fill="#ff9999"/>
<rect x="332.80" y="412.83" width="20.08" height="7.71" fill="#ff9999"/>
<rect x="352.88" y="412.83" width="20.08" height="7.71" fill="#ff9999"/>
<text transform="translate(375.6 419.09) rotate(0.05)" font-size="6.67" fill="#000" stroke="#000" stroke-width="0.12">UBN1</text>
<rect x="5.2" y="420.54" width="6.3" height="7.71" fill="#CDC9C9" stroke="#aaa" stroke-width="0.4"/>
<rect x="14.20" y="420.54" width="20.08" height="7.71" fill="#ff8080"/>
<rect x="34.28" y="420.54" width="20.08" height="7.71" fill="#ff6666"/>
<rect x="54.36" y="420.54" width="20.08" height="7.71" fill="#ff7373"/>
<rect x="77.92" y="420.54" width="20.08" height="7.71" fill="#ff9999"/>
<rect x="98.00" y="420.54" width="20.08" height="7.71" fill="#ff9999"/>
<rect x="118.08" y="420.54" width="20.08" height="7.71" fill="#ff9999"/>
<rect x="138.16" y="420.54" width="20.08" height="7.71" fill="#ff8c8c"/>
<rect x="158.24" y="420.54" width="20.08" height="7.71" fill="#ff9191"/>
<rect x="181.80" y="420.54" width="20.08" height="7.71" fill="#ff8c8c"/>
<rect x="201.88" y="420.54" width="20.08" height="7.71" fill="#ff9999"/>
<rect x="225.44" y="420.54" width="20.08" height="7.71" fill="#ff8c8c"/>
<rect x="245.52" y="420.54" width="20.08" height="7.71" fill="#ff9191"/>
<rect x="269.08" y="420.54" width="20.08" height="7.71" fill="#ff8080"/>
<rect x="289.16" y="420.54" width="20.08" height="7.71" fill="#ff9191"/>
<rect x="312.72" y="420.54" width="20.08" height="7.71" fill="#ff8c8c"/>
<rect x="332.80" y="420.54" width="20.08" height="7.71" fill="#ff8c8c"/>
<rect x="352.88" y="420.54" width="20.08" height="7.71" fill="#ff9191"/>
<text transform="translate(375.6 426.79) rotate(0.05)" font-size="6.67" fill="#000" stroke="#000" stroke-width="0.12">LLPH</text>
<rect x="5.2" y="428.24" width="6.3" height="7.71" fill="#CDC9C9" stroke="#aaa" stroke-width="0.4"/>
<rect x="14.20" y="428.24" width="20.08" height="7.71" fill="#ff8c8c"/>
<rect x="34.28" y="428.24" width="20.08" height="7.71" fill="#ff8c8c"/>
<rect x="54.36" y="428.24" width="20.08" height="7.71" fill="#ff8c8c"/>
<rect x="77.92" y="428.24" width="20.08" height="7.71" fill="#ff9999"/>
<rect x="98.00" y="428.24" width="20.08" height="7.71" fill="#ff9999"/>
<rect x="118.08" y="428.24" width="20.08" height="7.71" fill="#ff9999"/>
<rect x="138.16" y="428.24" width="20.08" height="7.71" fill="#ff8080"/>
<rect x="158.24" y="428.24" width="20.08" height="7.71" fill="#ff8c8c"/>
<rect x="181.80" y="428.24" width="20.08" height="7.71" fill="#ff8080"/>
<rect x="201.88" y="428.24" width="20.08" height="7.71" fill="#ff8c8c"/>
<rect x="225.44" y="428.24" width="20.08" height="7.71" fill="#ff8080"/>
<rect x="245.52" y="428.24" width="20.08" height="7.71" fill="#ff7373"/>
<rect x="269.08" y="428.24" width="20.08" height="7.71" fill="#ff8c8c"/>
<rect x="289.16" y="428.24" width="20.08" height="7.71" fill="#ff8c8c"/>
<rect x="312.72" y="428.24" width="20.08" height="7.71" fill="#ff8080"/>
<rect x="332.80" y="428.24" width="20.08" height="7.71" fill="#ff8585"/>
<rect x="352.88" y="428.24" width="20.08" height="7.71" fill="#ff8c8c"/>
<text transform="translate(375.6 434.50) rotate(0.05)" font-size="6.67" fill="#000" stroke="#000" stroke-width="0.12">SMIM15</text>
<rect x="5.2" y="435.95" width="6.3" height="7.71" fill="#CDC9C9" stroke="#aaa" stroke-width="0.4"/>
<rect x="14.20" y="435.95" width="20.08" height="7.71" fill="#ff8080"/>
<rect x="34.28" y="435.95" width="20.08" height="7.71" fill="#ffa6a6"/>
<rect x="54.36" y="435.95" width="20.08" height="7.71" fill="#ff9999"/>
<rect x="77.92" y="435.95" width="20.08" height="7.71" fill="#ff8080"/>
<rect x="98.00" y="435.95" width="20.08" height="7.71" fill="#ff9999"/>
<rect x="118.08" y="435.95" width="20.08" height="7.71" fill="#ff8c8c"/>
<rect x="138.16" y="435.95" width="20.08" height="7.71" fill="#ff8c8c"/>
<rect x="158.24" y="435.95" width="20.08" height="7.71" fill="#ff8c8c"/>
<rect x="181.80" y="435.95" width="20.08" height="7.71" fill="#ff9e9e"/>
<rect x="201.88" y="435.95" width="20.08" height="7.71" fill="#ff8080"/>
<rect x="225.44" y="435.95" width="20.08" height="7.71" fill="#ff9191"/>
<rect x="245.52" y="435.95" width="20.08" height="7.71" fill="#ff8c8c"/>
<rect x="269.08" y="435.95" width="20.08" height="7.71" fill="#ff8080"/>
<rect x="289.16" y="435.95" width="20.08" height="7.71" fill="#ff8080"/>
<rect x="312.72" y="435.95" width="20.08" height="7.71" fill="#ff7373"/>
<rect x="332.80" y="435.95" width="20.08" height="7.71" fill="#ff9e9e"/>
<rect x="352.88" y="435.95" width="20.08" height="7.71" fill="#ff9e9e"/>
<text transform="translate(375.6 442.20) rotate(0.05)" font-size="6.67" fill="#000" stroke="#000" stroke-width="0.12">TNFSF12</text>
<rect x="5.2" y="443.65" width="6.3" height="7.71" fill="#CDC9C9" stroke="#aaa" stroke-width="0.4"/>
<rect x="14.20" y="443.65" width="20.08" height="7.71" fill="#ff6b6b"/>
<rect x="34.28" y="443.65" width="20.08" height="7.71" fill="#ff7373"/>
<rect x="54.36" y="443.65" width="20.08" height="7.71" fill="#ff7373"/>
<rect x="77.92" y="443.65" width="20.08" height="7.71" fill="#ff7a7a"/>
<rect x="98.00" y="443.65" width="20.08" height="7.71" fill="#ff8585"/>
<rect x="118.08" y="443.65" width="20.08" height="7.71" fill="#ff8080"/>
<rect x="138.16" y="443.65" width="20.08" height="7.71" fill="#ff8585"/>
<rect x="158.24" y="443.65" width="20.08" height="7.71" fill="#ff8080"/>
<rect x="181.80" y="443.65" width="20.08" height="7.71" fill="#ff9191"/>
<rect x="201.88" y="443.65" width="20.08" height="7.71" fill="#ff8c8c"/>
<rect x="225.44" y="443.65" width="20.08" height="7.71" fill="#ff9191"/>
<rect x="245.52" y="443.65" width="20.08" height="7.71" fill="#ff9191"/>
<rect x="269.08" y="443.65" width="20.08" height="7.71" fill="#ff9999"/>
<rect x="289.16" y="443.65" width="20.08" height="7.71" fill="#ff8585"/>
<rect x="312.72" y="443.65" width="20.08" height="7.71" fill="#ff9999"/>
<rect x="332.80" y="443.65" width="20.08" height="7.71" fill="#ff9e9e"/>
<rect x="352.88" y="443.65" width="20.08" height="7.71" fill="#ff9999"/>
<text transform="translate(375.6 449.91) rotate(0.05)" font-size="6.67" fill="#000" stroke="#000" stroke-width="0.12">RBX1</text>
<rect x="5.2" y="451.36" width="6.3" height="7.71" fill="#8470FF" stroke="#aaa" stroke-width="0.4"/>
<rect x="14.20" y="451.36" width="20.08" height="7.71" fill="#ff8c8c"/>
<rect x="34.28" y="451.36" width="20.08" height="7.71" fill="#ff8585"/>
<rect x="54.36" y="451.36" width="20.08" height="7.71" fill="#ff8585"/>
<rect x="77.92" y="451.36" width="20.08" height="7.71" fill="#ff8c8c"/>
<rect x="98.00" y="451.36" width="20.08" height="7.71" fill="#ff8c8c"/>
<rect x="118.08" y="451.36" width="20.08" height="7.71" fill="#ff8c8c"/>
<rect x="138.16" y="451.36" width="20.08" height="7.71" fill="#ff8c8c"/>
<rect x="158.24" y="451.36" width="20.08" height="7.71" fill="#ff8c8c"/>
<rect x="181.80" y="451.36" width="20.08" height="7.71" fill="#ff9999"/>
<rect x="201.88" y="451.36" width="20.08" height="7.71" fill="#ff9191"/>
<rect x="225.44" y="451.36" width="20.08" height="7.71" fill="#ff9999"/>
<rect x="245.52" y="451.36" width="20.08" height="7.71" fill="#ff9999"/>
<rect x="269.08" y="451.36" width="20.08" height="7.71" fill="#ff9191"/>
<rect x="289.16" y="451.36" width="20.08" height="7.71" fill="#ff9191"/>
<rect x="312.72" y="451.36" width="20.08" height="7.71" fill="#ff9999"/>
<rect x="332.80" y="451.36" width="20.08" height="7.71" fill="#ff9999"/>
<rect x="352.88" y="451.36" width="20.08" height="7.71" fill="#ff9999"/>
<text transform="translate(375.6 457.61) rotate(0.05)" font-size="6.67" fill="#000" stroke="#000" stroke-width="0.12">RSL24D1</text>
<path d="M14.20 328.08H74.44M14.20 335.79H74.44M14.20 343.49H74.44M14.20 351.20H74.44M14.20 358.90H74.44M14.20 366.61H74.44M14.20 374.31H74.44M14.20 382.02H74.44M14.20 389.72H74.44M14.20 397.43H74.44M14.20 405.13H74.44M14.20 412.84H74.44M14.20 420.54H74.44M14.20 428.25H74.44M14.20 435.95H74.44M14.20 443.66H74.44M14.20 451.36H74.44M14.20 459.07H74.44M14.20 328.08V459.06M34.28 328.08V459.06M54.36 328.08V459.06M74.44 328.08V459.06M77.92 328.08H178.32M77.92 335.79H178.32M77.92 343.49H178.32M77.92 351.20H178.32M77.92 358.90H178.32M77.92 366.61H178.32M77.92 374.31H178.32M77.92 382.02H178.32M77.92 389.72H178.32M77.92 397.43H178.32M77.92 405.13H178.32M77.92 412.84H178.32M77.92 420.54H178.32M77.92 428.25H178.32M77.92 435.95H178.32M77.92 443.66H178.32M77.92 451.36H178.32M77.92 459.07H178.32M77.92 328.08V459.06M98.00 328.08V459.06M118.08 328.08V459.06M138.16 328.08V459.06M158.24 328.08V459.06M178.32 328.08V459.06M181.80 328.08H221.96M181.80 335.79H221.96M181.80 343.49H221.96M181.80 351.20H221.96M181.80 358.90H221.96M181.80 366.61H221.96M181.80 374.31H221.96M181.80 382.02H221.96M181.80 389.72H221.96M181.80 397.43H221.96M181.80 405.13H221.96M181.80 412.84H221.96M181.80 420.54H221.96M181.80 428.25H221.96M181.80 435.95H221.96M181.80 443.66H221.96M181.80 451.36H221.96M181.80 459.07H221.96M181.80 328.08V459.06M201.88 328.08V459.06M221.96 328.08V459.06M225.44 328.08H265.60M225.44 335.79H265.60M225.44 343.49H265.60M225.44 351.20H265.60M225.44 358.90H265.60M225.44 366.61H265.60M225.44 374.31H265.60M225.44 382.02H265.60M225.44 389.72H265.60M225.44 397.43H265.60M225.44 405.13H265.60M225.44 412.84H265.60M225.44 420.54H265.60M225.44 428.25H265.60M225.44 435.95H265.60M225.44 443.66H265.60M225.44 451.36H265.60M225.44 459.07H265.60M225.44 328.08V459.06M245.52 328.08V459.06M265.60 328.08V459.06M269.08 328.08H309.24M269.08 335.79H309.24M269.08 343.49H309.24M269.08 351.20H309.24M269.08 358.90H309.24M269.08 366.61H309.24M269.08 374.31H309.24M269.08 382.02H309.24M269.08 389.72H309.24M269.08 397.43H309.24M269.08 405.13H309.24M269.08 412.84H309.24M269.08 420.54H309.24M269.08 428.25H309.24M269.08 435.95H309.24M269.08 443.66H309.24M269.08 451.36H309.24M269.08 459.07H309.24M269.08 328.08V459.06M289.16 328.08V459.06M309.24 328.08V459.06M312.72 328.08H372.96M312.72 335.79H372.96M312.72 343.49H372.96M312.72 351.20H372.96M312.72 358.90H372.96M312.72 366.61H372.96M312.72 374.31H372.96M312.72 382.02H372.96M312.72 389.72H372.96M312.72 397.43H372.96M312.72 405.13H372.96M312.72 412.84H372.96M312.72 420.54H372.96M312.72 428.25H372.96M312.72 435.95H372.96M312.72 443.66H372.96M312.72 451.36H372.96M312.72 459.07H372.96M312.72 328.08V459.06M332.80 328.08V459.06M352.88 328.08V459.06M372.96 328.08V459.06" fill="none" stroke="#969696" stroke-width="0.5" stroke-linecap="square"/>
<rect x="5.2" y="462.46" width="6.3" height="7.71" fill="#CDC9C9" stroke="#aaa" stroke-width="0.4"/>
<rect x="14.20" y="462.46" width="20.08" height="7.71" fill="#ffb2b2"/>
<rect x="34.28" y="462.46" width="20.08" height="7.71" fill="#ffcccc"/>
<rect x="54.36" y="462.46" width="20.08" height="7.71" fill="#ffd9d9"/>
<rect x="77.92" y="462.46" width="20.08" height="7.71" fill="#ffeded"/>
<rect x="98.00" y="462.46" width="20.08" height="7.71" fill="#ffe6e6"/>
<rect x="118.08" y="462.46" width="20.08" height="7.71" fill="#fff7f7"/>
<rect x="138.16" y="462.46" width="20.08" height="7.71" fill="#ffebeb"/>
<rect x="158.24" y="462.46" width="20.08" height="7.71" fill="#fff7f7"/>
<rect x="181.80" y="462.46" width="20.08" height="7.71" fill="#ff8080"/>
<rect x="201.88" y="462.46" width="20.08" height="7.71" fill="#ff9191"/>
<rect x="225.44" y="462.46" width="20.08" height="7.71" fill="#ff3333"/>
<rect x="245.52" y="462.46" width="20.08" height="7.71" fill="#ff3838"/>
<rect x="269.08" y="462.46" width="20.08" height="7.71" fill="#ff4040"/>
<rect x="289.16" y="462.46" width="20.08" height="7.71" fill="#ff7373"/>
<rect x="312.72" y="462.46" width="20.08" height="7.71" fill="#ff3333"/>
<rect x="332.80" y="462.46" width="20.08" height="7.71" fill="#ff0000"/>
<rect x="352.88" y="462.46" width="20.08" height="7.71" fill="#ff0d0d"/>
<text transform="translate(375.6 468.72) rotate(0.05)" font-size="6.67" fill="#000" stroke="#000" stroke-width="0.12">ENSBTAG00000008550</text>
<rect x="5.2" y="470.17" width="6.3" height="7.71" fill="#CDC9C9" stroke="#aaa" stroke-width="0.4"/>
<rect x="14.20" y="470.17" width="20.08" height="7.71" fill="#ffe6e6"/>
<rect x="34.28" y="470.17" width="20.08" height="7.71" fill="#ffc4c4"/>
<rect x="54.36" y="470.17" width="20.08" height="7.71" fill="#ffebeb"/>
<rect x="77.92" y="470.17" width="20.08" height="7.71" fill="#fffafa"/>
<rect x="98.00" y="470.17" width="20.08" height="7.71" fill="#ffb2b2"/>
<rect x="138.16" y="470.17" width="20.08" height="7.71" fill="#ffcccc"/>
<rect x="181.80" y="470.17" width="20.08" height="7.71" fill="#ff7373"/>
<rect x="201.88" y="470.17" width="20.08" height="7.71" fill="#ff0000"/>
<rect x="225.44" y="470.17" width="20.08" height="7.71" fill="#ff0000"/>
<rect x="245.52" y="470.17" width="20.08" height="7.71" fill="#ff0000"/>
<rect x="269.08" y="470.17" width="20.08" height="7.71" fill="#ff4040"/>
<rect x="289.16" y="470.17" width="20.08" height="7.71" fill="#ff0000"/>
<rect x="312.72" y="470.17" width="20.08" height="7.71" fill="#ff0000"/>
<rect x="332.80" y="470.17" width="20.08" height="7.71" fill="#ff0000"/>
<rect x="352.88" y="470.17" width="20.08" height="7.71" fill="#ff0d0d"/>
<text transform="translate(375.6 476.42) rotate(0.05)" font-size="6.67" fill="#000" stroke="#000" stroke-width="0.12">IGLL1</text>
<rect x="5.2" y="477.87" width="6.3" height="7.71" fill="#CDC9C9" stroke="#aaa" stroke-width="0.4"/>
<rect x="14.20" y="477.87" width="20.08" height="7.71" fill="#ffabab"/>
<rect x="34.28" y="477.87" width="20.08" height="7.71" fill="#ffbfbf"/>
<rect x="54.36" y="477.87" width="20.08" height="7.71" fill="#ffbfbf"/>
<rect x="98.00" y="477.87" width="20.08" height="7.71" fill="#fffafa"/>
<rect x="181.80" y="477.87" width="20.08" height="7.71" fill="#ff9999"/>
<rect x="201.88" y="477.87" width="20.08" height="7.71" fill="#ffa6a6"/>
<rect x="225.44" y="477.87" width="20.08" height="7.71" fill="#ff7373"/>
<rect x="245.52" y="477.87" width="20.08" height="7.71" fill="#ff7373"/>
<rect x="269.08" y="477.87" width="20.08" height="7.71" fill="#ff8080"/>
<rect x="289.16" y="477.87" width="20.08" height="7.71" fill="#ff8c8c"/>
<rect x="312.72" y="477.87" width="20.08" height="7.71" fill="#ff7373"/>
<rect x="332.80" y="477.87" width="20.08" height="7.71" fill="#ff6666"/>
<rect x="352.88" y="477.87" width="20.08" height="7.71" fill="#ff5959"/>
<text transform="translate(375.6 484.13) rotate(0.05)" font-size="6.67" fill="#000" stroke="#000" stroke-width="0.12">ENSBTAG00000040392</text>
<rect x="5.2" y="485.58" width="6.3" height="7.71" fill="#CDC9C9" stroke="#aaa" stroke-width="0.4"/>
<rect x="14.20" y="485.58" width="20.08" height="7.71" fill="#ffe6e6"/>
<rect x="34.28" y="485.58" width="20.08" height="7.71" fill="#fff2f2"/>
<rect x="181.80" y="485.58" width="20.08" height="7.71" fill="#ffb8b8"/>
<rect x="201.88" y="485.58" width="20.08" height="7.71" fill="#ffbfbf"/>
<rect x="225.44" y="485.58" width="20.08" height="7.71" fill="#ff8c8c"/>
<rect x="245.52" y="485.58" width="20.08" height="7.71" fill="#ff8c8c"/>
<rect x="269.08" y="485.58" width="20.08" height="7.71" fill="#ff8c8c"/>
<rect x="289.16" y="485.58" width="20.08" height="7.71" fill="#ffd1d1"/>
<rect x="312.72" y="485.58" width="20.08" height="7.71" fill="#ff8080"/>
<rect x="332.80" y="485.58" width="20.08" height="7.71" fill="#ff6666"/>
<rect x="352.88" y="485.58" width="20.08" height="7.71" fill="#ff6666"/>
<text transform="translate(375.6 491.83) rotate(0.05)" font-size="6.67" fill="#000" stroke="#000" stroke-width="0.12">ENSBTAG00000039588</text>
<rect x="5.2" y="493.28" width="6.3" height="7.71" fill="#CDC9C9" stroke="#aaa" stroke-width="0.4"/>
<rect x="14.20" y="493.28" width="20.08" height="7.71" fill="#ffe6e6"/>
<rect x="34.28" y="493.28" width="20.08" height="7.71" fill="#ffe6e6"/>
<rect x="54.36" y="493.28" width="20.08" height="7.71" fill="#fff2f2"/>
<rect x="118.08" y="493.28" width="20.08" height="7.71" fill="#fffafa"/>
<rect x="181.80" y="493.28" width="20.08" height="7.71" fill="#ffb2b2"/>
<rect x="201.88" y="493.28" width="20.08" height="7.71" fill="#ffb2b2"/>
<rect x="225.44" y="493.28" width="20.08" height="7.71" fill="#ff8080"/>
<rect x="245.52" y="493.28" width="20.08" height="7.71" fill="#ff8080"/>
<rect x="269.08" y="493.28" width="20.08" height="7.71" fill="#ff7373"/>
<rect x="289.16" y="493.28" width="20.08" height="7.71" fill="#ffa6a6"/>
<rect x="312.72" y="493.28" width="20.08" height="7.71" fill="#ff7373"/>
<rect x="332.80" y="493.28" width="20.08" height="7.71" fill="#ff4d4d"/>
<rect x="352.88" y="493.28" width="20.08" height="7.71" fill="#ff4040"/>
<text transform="translate(375.6 499.54) rotate(0.05)" font-size="6.67" fill="#000" stroke="#000" stroke-width="0.12">GIMAP1</text>
<rect x="5.2" y="500.99" width="6.3" height="7.71" fill="#CDC9C9" stroke="#aaa" stroke-width="0.4"/>
<rect x="14.20" y="500.99" width="20.08" height="7.71" fill="#ffe0e0"/>
<rect x="34.28" y="500.99" width="20.08" height="7.71" fill="#fff7f7"/>
<rect x="54.36" y="500.99" width="20.08" height="7.71" fill="#ffebeb"/>
<rect x="77.92" y="500.99" width="20.08" height="7.71" fill="#fffafa"/>
<rect x="98.00" y="500.99" width="20.08" height="7.71" fill="#fffafa"/>
<rect x="118.08" y="500.99" width="20.08" height="7.71" fill="#fff7f7"/>
<rect x="138.16" y="500.99" width="20.08" height="7.71" fill="#fff2f2"/>
<rect x="158.24" y="500.99" width="20.08" height="7.71" fill="#fff2f2"/>
<rect x="181.80" y="500.99" width="20.08" height="7.71" fill="#ff9e9e"/>
<rect x="201.88" y="500.99" width="20.08" height="7.71" fill="#ffbfbf"/>
<rect x="225.44" y="500.99" width="20.08" height="7.71" fill="#ff8080"/>
<rect x="245.52" y="500.99" width="20.08" height="7.71" fill="#ff7878"/>
<rect x="269.08" y="500.99" width="20.08" height="7.71" fill="#ff8080"/>
<rect x="289.16" y="500.99" width="20.08" height="7.71" fill="#ff9e9e"/>
<rect x="312.72" y="500.99" width="20.08" height="7.71" fill="#ff7373"/>
<rect x="332.80" y="500.99" width="20.08" height="7.71" fill="#ff4d4d"/>
<rect x="352.88" y="500.99" width="20.08" height="7.71" fill="#ff4d4d"/>
<text transform="translate(375.6 507.24) rotate(0.05)" font-size="6.67" fill="#000" stroke="#000" stroke-width="0.12">GIMAP8</text>
<rect x="5.2" y="508.69" width="6.3" height="7.71" fill="#FFA347" stroke="#aaa" stroke-width="0.4"/>
<rect x="14.20" y="508.69" width="20.08" height="7.71" fill="#ffcccc"/>
<rect x="34.28" y="508.69" width="20.08" height="7.71" fill="#ffe0e0"/>
<rect x="54.36" y="508.69" width="20.08" height="7.71" fill="#ffd9d9"/>
<rect x="77.92" y="508.69" width="20.08" height="7.71" fill="#ff9e9e"/>
<rect x="98.00" y="508.69" width="20.08" height="7.71" fill="#ffc4c4"/>
<rect x="118.08" y="508.69" width="20.08" height="7.71" fill="#ffcccc"/>
<rect x="138.16" y="508.69" width="20.08" height="7.71" fill="#ffbfbf"/>
<rect x="158.24" y="508.69" width="20.08" height="7.71" fill="#ffb2b2"/>
<rect x="181.80" y="508.69" width="20.08" height="7.71" fill="#ff0000"/>
<rect x="201.88" y="508.69" width="20.08" height="7.71" fill="#ffb2b2"/>
<rect x="225.44" y="508.69" width="20.08" height="7.71" fill="#ffa6a6"/>
<rect x="245.52" y="508.69" width="20.08" height="7.71" fill="#ffb2b2"/>
<rect x="269.08" y="508.69" width="20.08" height="7.71" fill="#ff8080"/>
<rect x="289.16" y="508.69" width="20.08" height="7.71" fill="#ffbfbf"/>
<rect x="312.72" y="508.69" width="20.08" height="7.71" fill="#ffa6a6"/>
<rect x="332.80" y="508.69" width="20.08" height="7.71" fill="#ff8c8c"/>
<rect x="352.88" y="508.69" width="20.08" height="7.71" fill="#ffeded"/>
<text transform="translate(375.6 514.95) rotate(0.05)" font-size="6.67" fill="#000" stroke="#000" stroke-width="0.12">ENSBTAG00000037533</text>
<rect x="5.2" y="516.40" width="6.3" height="7.71" fill="#CDC9C9" stroke="#aaa" stroke-width="0.4"/>
<rect x="14.20" y="516.40" width="20.08" height="7.71" fill="#ffa6a6"/>
<rect x="34.28" y="516.40" width="20.08" height="7.71" fill="#ffc4c4"/>
<rect x="54.36" y="516.40" width="20.08" height="7.71" fill="#ffbfbf"/>
<rect x="77.92" y="516.40" width="20.08" height="7.71" fill="#ffcccc"/>
<rect x="98.00" y="516.40" width="20.08" height="7.71" fill="#ffbfbf"/>
<rect x="118.08" y="516.40" width="20.08" height="7.71" fill="#ffe6e6"/>
<rect x="138.16" y="516.40" width="20.08" height="7.71" fill="#ffd9d9"/>
<rect x="158.24" y="516.40" width="20.08" height="7.71" fill="#ffd9d9"/>
<rect x="181.80" y="516.40" width="20.08" height="7.71" fill="#ff8c8c"/>
<rect x="201.88" y="516.40" width="20.08" height="7.71" fill="#ffabab"/>
<rect x="225.44" y="516.40" width="20.08" height="7.71" fill="#ff7878"/>
<rect x="245.52" y="516.40" width="20.08" height="7.71" fill="#ff5e5e"/>
<rect x="269.08" y="516.40" width="20.08" height="7.71" fill="#ff8c8c"/>
<rect x="289.16" y="516.40" width="20.08" height="7.71" fill="#ff7373"/>
<rect x="312.72" y="516.40" width="20.08" height="7.71" fill="#ff6666"/>
<rect x="332.80" y="516.40" width="20.08" height="7.71" fill="#ff7373"/>
<rect x="352.88" y="516.40" width="20.08" height="7.71" fill="#ff6666"/>
<text transform="translate(375.6 522.65) rotate(0.05)" font-size="6.67" fill="#000" stroke="#000" stroke-width="0.12">ENSBTAG00000007075</text>
<rect x="5.2" y="524.10" width="6.3" height="7.71" fill="#CDC9C9" stroke="#aaa" stroke-width="0.4"/>
<rect x="14.20" y="524.10" width="20.08" height="7.71" fill="#ff9999"/>
<rect x="34.28" y="524.10" width="20.08" height="7.71" fill="#ffb8b8"/>
<rect x="54.36" y="524.10" width="20.08" height="7.71" fill="#ffb2b2"/>
<rect x="77.92" y="524.10" width="20.08" height="7.71" fill="#ff8585"/>
<rect x="98.00" y="524.10" width="20.08" height="7.71" fill="#ffb2b2"/>
<rect x="118.08" y="524.10" width="20.08" height="7.71" fill="#ffbfbf"/>
<rect x="138.16" y="524.10" width="20.08" height="7.71" fill="#ffb2b2"/>
<rect x="158.24" y="524.10" width="20.08" height="7.71" fill="#ffb2b2"/>
<rect x="181.80" y="524.10" width="20.08" height="7.71" fill="#ff7373"/>
<rect x="201.88" y="524.10" width="20.08" height="7.71" fill="#ff9e9e"/>
<rect x="225.44" y="524.10" width="20.08" height="7.71" fill="#ff7878"/>
<rect x="245.52" y="524.10" width="20.08" height="7.71" fill="#ff6666"/>
<rect x="269.08" y="524.10" width="20.08" height="7.71" fill="#ff8c8c"/>
<rect x="289.16" y="524.10" width="20.08" height="7.71" fill="#ff8080"/>
<rect x="312.72" y="524.10" width="20.08" height="7.71" fill="#ff7373"/>
<rect x="332.80" y="524.10" width="20.08" height="7.71" fill="#ff8c8c"/>
<rect x="352.88" y="524.10" width="20.08" height="7.71" fill="#ff5959"/>
<text transform="translate(375.6 530.36) rotate(0.05)" font-size="6.67" fill="#000" stroke="#000" stroke-width="0.12">OAS1Y</text>
<path d="M14.20 462.46H74.44M14.20 470.17H74.44M14.20 477.87H74.44M14.20 485.58H74.44M14.20 493.28H74.44M14.20 500.99H74.44M14.20 508.69H74.44M14.20 516.40H74.44M14.20 524.10H74.44M14.20 531.81H74.44M14.20 462.46V531.81M34.28 462.46V531.81M54.36 462.46V531.81M74.44 462.46V531.81M77.92 462.46H178.32M77.92 470.17H178.32M77.92 477.87H178.32M77.92 485.58H178.32M77.92 493.28H178.32M77.92 500.99H178.32M77.92 508.69H178.32M77.92 516.40H178.32M77.92 524.10H178.32M77.92 531.81H178.32M77.92 462.46V531.81M98.00 462.46V531.81M118.08 462.46V531.81M138.16 462.46V531.81M158.24 462.46V531.81M178.32 462.46V531.81M181.80 462.46H221.96M181.80 470.17H221.96M181.80 477.87H221.96M181.80 485.58H221.96M181.80 493.28H221.96M181.80 500.99H221.96M181.80 508.69H221.96M181.80 516.40H221.96M181.80 524.10H221.96M181.80 531.81H221.96M181.80 462.46V531.81M201.88 462.46V531.81M221.96 462.46V531.81M225.44 462.46H265.60M225.44 470.17H265.60M225.44 477.87H265.60M225.44 485.58H265.60M225.44 493.28H265.60M225.44 500.99H265.60M225.44 508.69H265.60M225.44 516.40H265.60M225.44 524.10H265.60M225.44 531.81H265.60M225.44 462.46V531.81M245.52 462.46V531.81M265.60 462.46V531.81M269.08 462.46H309.24M269.08 470.17H309.24M269.08 477.87H309.24M269.08 485.58H309.24M269.08 493.28H309.24M269.08 500.99H309.24M269.08 508.69H309.24M269.08 516.40H309.24M269.08 524.10H309.24M269.08 531.81H309.24M269.08 462.46V531.81M289.16 462.46V531.81M309.24 462.46V531.81M312.72 462.46H372.96M312.72 470.17H372.96M312.72 477.87H372.96M312.72 485.58H372.96M312.72 493.28H372.96M312.72 500.99H372.96M312.72 508.69H372.96M312.72 516.40H372.96M312.72 524.10H372.96M312.72 531.81H372.96M312.72 462.46V531.81M332.80 462.46V531.81M352.88 462.46V531.81M372.96 462.46V531.81" fill="none" stroke="#969696" stroke-width="0.5" stroke-linecap="square"/>
<text transform="translate(22.04 534.6) rotate(90.05)" font-size="6.67" fill="#000" stroke="#000" stroke-width="0.12">HE</text>
<text transform="translate(42.12 534.6) rotate(90.05)" font-size="6.67" fill="#000" stroke="#000" stroke-width="0.12">LM</text>
<text transform="translate(62.20 534.6) rotate(90.05)" font-size="6.67" fill="#000" stroke="#000" stroke-width="0.12">FM</text>
<text transform="translate(85.76 534.6) rotate(90.05)" font-size="6.67" fill="#000" stroke="#000" stroke-width="0.12">SC</text>
<text transform="translate(105.84 534.6) rotate(90.05)" font-size="6.67" fill="#000" stroke="#000" stroke-width="0.12">PG</text>
<text transform="translate(125.92 534.6) rotate(90.05)" font-size="6.67" fill="#000" stroke="#000" stroke-width="0.12">HH</text>
<text transform="translate(146.00 534.6) rotate(90.05)" font-size="6.67" fill="#000" stroke="#000" stroke-width="0.12">CR</text>
<text transform="translate(166.08 534.6) rotate(90.05)" font-size="6.67" fill="#000" stroke="#000" stroke-width="0.12">CL</text>
<text transform="translate(189.64 534.6) rotate(90.05)" font-size="6.67" fill="#000" stroke="#000" stroke-width="0.12">LV</text>
<text transform="translate(209.72 534.6) rotate(90.05)" font-size="6.67" fill="#000" stroke="#000" stroke-width="0.12">KD</text>
<text transform="translate(233.28 534.6) rotate(90.05)" font-size="6.67" fill="#000" stroke="#000" stroke-width="0.12">LI</text>
<text transform="translate(253.36 534.6) rotate(90.05)" font-size="6.67" fill="#000" stroke="#000" stroke-width="0.12">SI</text>
<text transform="translate(276.92 534.6) rotate(90.05)" font-size="6.67" fill="#000" stroke="#000" stroke-width="0.12">AG</text>
<text transform="translate(297.00 534.6) rotate(90.05)" font-size="6.67" fill="#000" stroke="#000" stroke-width="0.12">LU</text>
<text transform="translate(320.56 534.6) rotate(90.05)" font-size="6.67" fill="#000" stroke="#000" stroke-width="0.12">SP</text>
<text transform="translate(340.64 534.6) rotate(90.05)" font-size="6.67" fill="#000" stroke="#000" stroke-width="0.12">LY</text>
<text transform="translate(360.72 534.6) rotate(90.05)" font-size="6.67" fill="#000" stroke="#000" stroke-width="0.12">BL</text>
<defs><linearGradient id="lg" x1="0" y1="0" x2="0" y2="1"><stop offset="0" stop-color="#ff0000"/><stop offset="1" stop-color="#ffffff"/></linearGradient></defs>
<text transform="translate(480.5 52.5) rotate(0.05)" font-size="6.67" font-weight="bold" fill="#000">Expression</text>
<rect x="480.3" y="57" width="8.4" height="128.2" fill="url(#lg)"/>
<text transform="translate(492.7 60.10) rotate(0.05)" font-size="6.67" fill="#000" stroke="#000" stroke-width="0.12">10</text>
<text transform="translate(492.7 85.70) rotate(0.05)" font-size="6.67" fill="#000" stroke="#000" stroke-width="0.12">8</text>
<text transform="translate(492.7 111.30) rotate(0.05)" font-size="6.67" fill="#000" stroke="#000" stroke-width="0.12">6</text>
<text transform="translate(492.7 136.90) rotate(0.05)" font-size="6.67" fill="#000" stroke="#000" stroke-width="0.12">4</text>
<text transform="translate(492.7 162.50) rotate(0.05)" font-size="6.67" fill="#000" stroke="#000" stroke-width="0.12">2</text>
<text transform="translate(492.7 188.10) rotate(0.05)" font-size="6.67" fill="#000" stroke="#000" stroke-width="0.12">0</text>
<text transform="translate(479.6 220.2) rotate(0.05)" font-size="7.7" font-weight="bold" fill="#000">Tissue_Type</text>
<rect x="479.8" y="223.40" width="11.8" height="12" fill="#F97FDD" stroke="#bbb" stroke-width="0.4"/>
<text transform="translate(493.8 232.10) rotate(0.05)" font-size="7.5" fill="#000" stroke="#000" stroke-width="0.12">CNS</text>
<rect x="479.8" y="235.40" width="11.8" height="12" fill="#00CCF5" stroke="#bbb" stroke-width="0.4"/>
<text transform="translate(493.8 244.10) rotate(0.05)" font-size="7.5" fill="#000" stroke="#000" stroke-width="0.12">Detoxification</text>
<rect x="479.8" y="247.40" width="11.8" height="12" fill="#FFA800" stroke="#bbb" stroke-width="0.4"/>
<text transform="translate(493.8 256.10) rotate(0.05)" font-size="7.5" fill="#000" stroke="#000" stroke-width="0.12">Immune</text>
<rect x="479.8" y="259.40" width="11.8" height="12" fill="#68B0F3" stroke="#bbb" stroke-width="0.4"/>
<text transform="translate(493.8 268.10) rotate(0.05)" font-size="7.5" fill="#000" stroke="#000" stroke-width="0.12">Intestine</text>
<rect x="479.8" y="271.40" width="11.8" height="12" fill="#1FD8B5" stroke="#bbb" stroke-width="0.4"/>
<text transform="translate(493.8 280.10) rotate(0.05)" font-size="7.5" fill="#000" stroke="#000" stroke-width="0.12">Muscle</text>
<rect x="479.8" y="283.40" width="11.8" height="12" fill="#1AD45F" stroke="#bbb" stroke-width="0.4"/>
<text transform="translate(493.8 292.10) rotate(0.05)" font-size="7.5" fill="#000" stroke="#000" stroke-width="0.12">Stress response</text>
<text transform="translate(479.6 310.2) rotate(0.05)" font-size="7.7" font-weight="bold" fill="#000">Imprint_Status</text>
<rect x="479.8" y="313.50" width="11.8" height="12" fill="#8470FF" stroke="#bbb" stroke-width="0.4"/>
<text transform="translate(493.8 322.20) rotate(0.05)" font-size="7.5" fill="#000" stroke="#000" stroke-width="0.12">PE</text>
<rect x="479.8" y="325.50" width="11.8" height="12" fill="#FFA347" stroke="#bbb" stroke-width="0.4"/>
<text transform="translate(493.8 334.20) rotate(0.05)" font-size="7.5" fill="#000" stroke="#000" stroke-width="0.12">ME</text>
<rect x="479.8" y="337.50" width="11.8" height="12" fill="#CDC9C9" stroke="#bbb" stroke-width="0.4"/>
<text transform="translate(493.8 346.20) rotate(0.05)" font-size="7.5" fill="#000" stroke="#000" stroke-width="0.12">UN</text>
</svg></body></html>
